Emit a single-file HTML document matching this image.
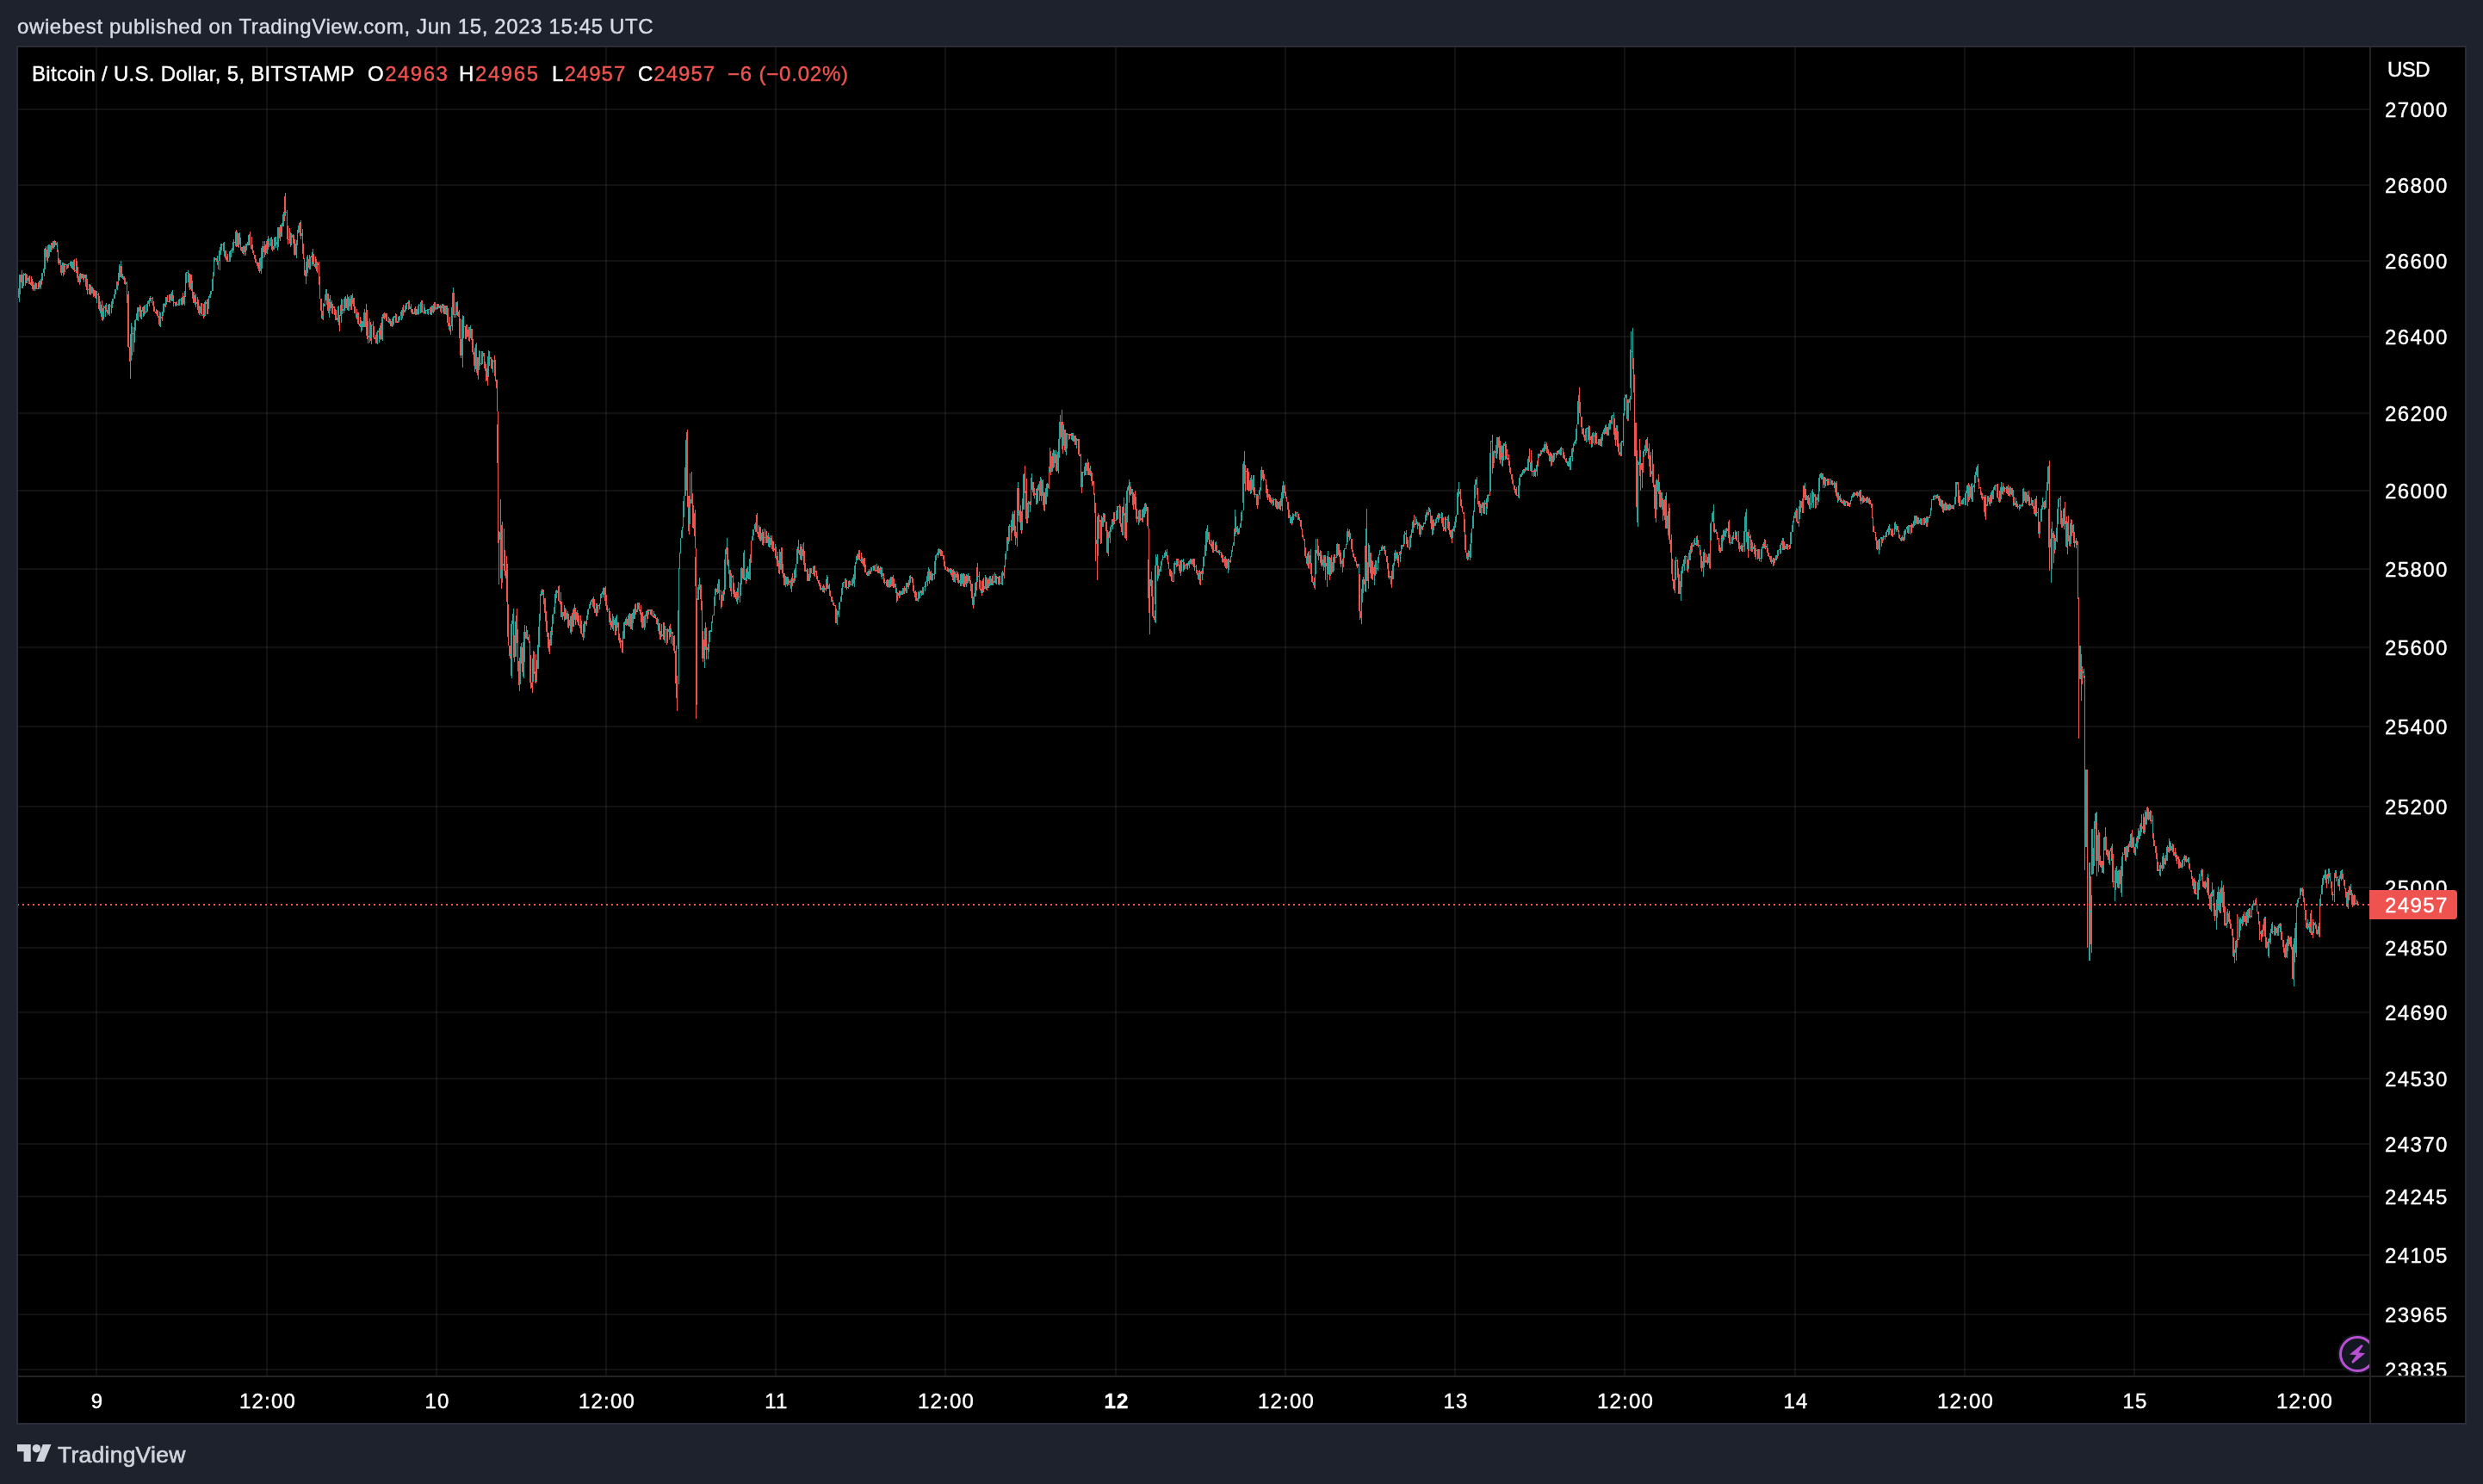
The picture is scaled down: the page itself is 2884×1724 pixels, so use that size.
<!DOCTYPE html>
<html><head><meta charset="utf-8"><title>BTCUSD</title>
<style>
html,body{margin:0;padding:0;}
body{width:2884px;height:1724px;background:#1e222d;overflow:hidden;position:relative;font-family:"Liberation Sans",sans-serif;}
.abs{position:absolute;white-space:nowrap;}
#hdr,.pl,.tl,.lg,#tv{will-change:transform;-webkit-text-stroke:0.4px currentColor;}
#tv{-webkit-text-stroke:0.65px currentColor;}
#hdr{left:20px;top:17px;font-size:24px;line-height:28px;color:#d9dce6;letter-spacing:0.62px;}
#box{left:19px;top:53px;width:2842px;height:1598px;border:2px solid #2a2e39;background:#000;}
#chart{left:21px;top:55px;width:2842px;height:1598px;overflow:hidden;}
.vg{position:absolute;top:0;width:2px;height:1543px;background:rgba(255,255,255,0.065);}
.hg{position:absolute;left:0;width:2731px;height:2px;background:rgba(255,255,255,0.065);}
.pl{position:absolute;left:2748.5px;font-size:24px;line-height:28px;height:28px;color:#fff;letter-spacing:1.4px;}
.tl{position:absolute;top:1559px;font-size:24px;line-height:28px;height:28px;color:#fff;letter-spacing:1.2px;transform:translateX(-50%);text-align:center;}
.lg{position:absolute;top:17px;font-size:24px;line-height:28px;color:#fff;}
.r{color:#ef5350;}
path.gw{stroke:#26a69a;stroke-width:1;transform:translate(0.5px,0)}path.gb{stroke:#26a69a;stroke-width:2}path.rw{stroke:#ef5350;stroke-width:1;transform:translate(0.5px,0)}path.rb{stroke:#ef5350;stroke-width:2}
</style></head><body>
<div id="hdr" class="abs">owiebest published on TradingView.com, Jun 15, 2023 15:45 UTC</div>
<div id="box" class="abs"></div>
<div id="chart" class="abs">
<div class="vg" style="left:90px"></div><div class="vg" style="left:288px"></div><div class="vg" style="left:485px"></div><div class="vg" style="left:682px"></div><div class="vg" style="left:879px"></div><div class="vg" style="left:1076px"></div><div class="vg" style="left:1274px"></div><div class="vg" style="left:1471px"></div><div class="vg" style="left:1668px"></div><div class="vg" style="left:1865px"></div><div class="vg" style="left:2063px"></div><div class="vg" style="left:2260px"></div><div class="vg" style="left:2457px"></div><div class="vg" style="left:2654px"></div>
<div class="hg" style="top:71px"></div><div class="hg" style="top:159px"></div><div class="hg" style="top:247px"></div><div class="hg" style="top:335px"></div><div class="hg" style="top:424px"></div><div class="hg" style="top:514px"></div><div class="hg" style="top:605px"></div><div class="hg" style="top:696px"></div><div class="hg" style="top:788px"></div><div class="hg" style="top:881px"></div><div class="hg" style="top:975px"></div><div class="hg" style="top:1045px"></div><div class="hg" style="top:1120px"></div><div class="hg" style="top:1197px"></div><div class="hg" style="top:1273px"></div><div class="hg" style="top:1334px"></div><div class="hg" style="top:1402px"></div><div class="hg" style="top:1471px"></div><div class="hg" style="top:1535px"></div>
<svg class="abs" style="left:0;top:0" width="2731" height="1543" viewBox="21 55 2731 1543" shape-rendering="crispEdges"><path class="gw" d="M22 332v19M23 319v23"/><path class="gb" d="M22 335v11M23 319v16"/><path class="rw" d="M25 314v21"/><path class="rb" d="M25 319v9"/><path class="gw" d="M26 319v16M27 317v15M29 317v15"/><path class="gb" d="M26 320v8M27 319v1M29 318v2"/><path class="rw" d="M30 318v11"/><path class="rb" d="M30 318v10"/><path class="gw" d="M31 319v10M33 321v9"/><path class="gb" d="M31 326v2M33 323v3"/><path class="rw" d="M34 320v10M36 321v11M37 324v10M38 327v11"/><path class="rb" d="M34 323v5M36 328v3M37 331v1M38 332v4"/><path class="gw" d="M40 329v9M41 328v8"/><path class="gb" d="M40 331v5M41 329v2"/><path class="rw" d="M42 329v7M44 328v8"/><path class="rb" d="M42 329v6M44 335v1"/><path class="gw" d="M45 326v10M47 324v12"/><path class="gb" d="M45 334v2M47 326v8"/><path class="rw" d="M48 321v10"/><path class="rb" d="M48 326v2"/><path class="gw" d="M49 317v9M51 312v9M52 288v25"/><path class="gb" d="M49 317v9M51 312v5M52 289v23"/><path class="rw" d="M53 286v13M55 285v20"/><path class="rb" d="M53 289v1M55 290v13"/><path class="gw" d="M56 284v16M57 284v14M59 282v11"/><path class="gb" d="M56 299v1M57 295v3M59 285v8"/><path class="rw" d="M60 282v8"/><path class="rb" d="M60 285v3"/><path class="gw" d="M62 280v9"/><path class="gb" d="M62 280v8"/><path class="rw" d="M63 279v8M64 280v5"/><path class="rb" d="M63 280v1M64 280v5"/><path class="gw" d="M66 281v9"/><path class="gb" d="M66 282v3"/><path class="rw" d="M67 290v12M68 300v8"/><path class="rb" d="M67 290v3M68 300v6"/><path class="gw" d="M70 302v12"/><path class="gb" d="M70 302v4"/><path class="rw" d="M71 308v12"/><path class="rb" d="M71 308v9"/><path class="gw" d="M73 305v16"/><path class="gb" d="M73 305v12"/><path class="rw" d="M74 306v13"/><path class="rb" d="M74 306v3"/><path class="gw" d="M75 306v10M77 307v6"/><path class="gb" d="M75 308v1M77 307v1"/><path class="rw" d="M78 307v5"/><path class="rb" d="M78 308v1"/><path class="gw" d="M79 306v5M81 305v4M82 303v8"/><path class="gb" d="M79 307v1M81 306v1M82 304v2"/><path class="rw" d="M84 304v9"/><path class="rb" d="M84 304v8"/><path class="gw" d="M85 302v11"/><path class="gb" d="M85 304v8"/><path class="rw" d="M86 301v15M88 300v17"/><path class="rb" d="M86 304v10M88 314v1"/><path class="gw" d="M89 303v20"/><path class="gb" d="M89 309v6"/><path class="rw" d="M90 310v18M92 321v10"/><path class="rb" d="M90 310v5M92 321v7"/><path class="gw" d="M93 317v11"/><path class="gb" d="M93 318v10"/><path class="rw" d="M94 318v6M96 318v7"/><path class="rb" d="M94 318v1M96 318v5"/><path class="gw" d="M97 319v9"/><path class="gb" d="M97 319v4"/><path class="rw" d="M99 319v14"/><path class="rb" d="M99 319v4"/><path class="gw" d="M100 319v18"/><path class="gb" d="M100 322v1"/><path class="rw" d="M101 324v18"/><path class="rb" d="M101 324v13"/><path class="gw" d="M103 334v8M104 330v12"/><path class="gb" d="M103 336v1M104 330v6"/><path class="rw" d="M105 331v12"/><path class="rb" d="M105 331v11"/><path class="gw" d="M107 333v8"/><path class="gb" d="M107 333v8"/><path class="rw" d="M108 335v10M110 337v9M111 338v9"/><path class="rb" d="M108 335v1M110 337v7M111 344v1"/><path class="gw" d="M112 338v14"/><path class="gb" d="M112 342v3"/><path class="rw" d="M114 340v12M115 344v17"/><path class="rb" d="M114 342v1M115 344v15"/><path class="gw" d="M116 350v14"/><path class="gb" d="M116 354v5"/><path class="rw" d="M118 349v23"/><path class="rb" d="M118 354v14"/><path class="gw" d="M119 360v13M120 355v16M122 354v14"/><path class="gb" d="M119 362v6M120 358v4M122 356v2"/><path class="rw" d="M123 352v10M125 354v12"/><path class="rb" d="M123 356v4M125 360v4"/><path class="gw" d="M126 353v12M127 353v14"/><path class="gb" d="M126 362v2M127 355v7"/><path class="rw" d="M129 352v12"/><path class="rb" d="M129 355v1"/><path class="gw" d="M130 349v9M131 347v6M133 342v5M134 336v6M136 327v10"/><path class="gb" d="M130 350v5M131 347v3M133 342v5M134 336v6M136 327v9"/><path class="rw" d="M137 317v15"/><path class="rb" d="M137 327v4"/><path class="gw" d="M138 307v19M140 303v19"/><path class="gb" d="M138 325v1M140 309v13"/><path class="rw" d="M141 309v14"/><path class="rb" d="M141 309v12"/><path class="gw" d="M142 318v6"/><path class="gb" d="M142 319v2"/><path class="rw" d="M144 321v4M145 323v8"/><path class="rb" d="M144 321v4M145 325v5"/><path class="gw" d="M147 327v25"/><path class="gb" d="M147 328v2"/><path class="rw" d="M148 342v18M149 338v66M151 388v52"/><path class="rb" d="M148 342v2M149 358v45M151 403v17"/><path class="gw" d="M152 375v44M153 379v34"/><path class="gb" d="M152 407v12M153 379v28"/><path class="rw" d="M155 387v22"/><path class="rb" d="M155 387v1"/><path class="gw" d="M156 374v24M157 371v13M159 364v8M160 357v16"/><path class="gb" d="M156 380v7M157 372v8M159 364v8M160 357v7"/><path class="rw" d="M162 354v11M163 356v14"/><path class="rb" d="M162 357v5M163 362v6"/><path class="gw" d="M164 360v11M166 356v12"/><path class="gb" d="M164 362v6M166 357v5"/><path class="rw" d="M167 355v12"/><path class="rb" d="M167 357v7"/><path class="gw" d="M168 354v11"/><path class="gb" d="M168 362v2"/><path class="rw" d="M170 353v10"/><path class="rb" d="M170 362v1"/><path class="gw" d="M171 350v12M173 346v10M174 344v6"/><path class="gb" d="M171 353v9M173 349v4M174 346v3"/><path class="rw" d="M175 346v6M177 345v10M178 350v10M179 356v6M181 359v6M182 360v5M183 361v8M185 362v17"/><path class="rb" d="M175 346v1M177 346v1M178 350v2M179 356v6M181 362v2M182 364v1M183 364v3M185 367v10"/><path class="gw" d="M186 363v17"/><path class="gb" d="M186 368v9"/><path class="rw" d="M188 362v11"/><path class="rb" d="M188 368v2"/><path class="gw" d="M189 359v8M190 352v11"/><path class="gb" d="M189 362v5M190 353v9"/><path class="rw" d="M192 345v12"/><path class="rb" d="M192 353v3"/><path class="gw" d="M193 345v9"/><path class="gb" d="M193 346v8"/><path class="rw" d="M194 343v8M196 342v9"/><path class="rb" d="M194 346v4M196 350v1"/><path class="gw" d="M197 342v10M199 339v11M200 337v13"/><path class="gb" d="M197 349v1M199 341v8M200 340v1"/><path class="rw" d="M201 343v13M203 351v5M204 351v4"/><path class="rb" d="M201 343v4M203 351v1M204 351v4"/><path class="gw" d="M205 350v6M207 348v7M208 347v8M210 347v7M211 345v10"/><path class="gb" d="M205 354v1M207 353v1M208 349v4M210 348v1M211 346v2"/><path class="rw" d="M212 340v14"/><path class="rb" d="M212 346v7"/><path class="gw" d="M214 338v17"/><path class="gb" d="M214 344v9"/><path class="rw" d="M215 325v20"/><path class="rb" d="M215 344v1"/><path class="gw" d="M216 316v13M218 314v14"/><path class="gb" d="M216 317v12M218 316v1"/><path class="rw" d="M219 317v17M220 318v19M222 319v19"/><path class="rb" d="M219 317v1M220 318v1M222 319v17"/><path class="gw" d="M223 326v21"/><path class="gb" d="M223 329v7"/><path class="rw" d="M225 339v13"/><path class="rb" d="M225 339v13"/><path class="gw" d="M226 343v11"/><path class="gb" d="M226 346v6"/><path class="rw" d="M227 341v16M229 345v11M230 348v13M231 355v11"/><path class="rb" d="M227 346v5M229 351v2M230 353v7M231 360v4"/><path class="gw" d="M233 352v15"/><path class="gb" d="M233 356v8"/><path class="rw" d="M234 352v13M236 353v17"/><path class="rb" d="M234 356v9M236 365v2"/><path class="gw" d="M237 353v15M238 349v18"/><path class="gb" d="M237 366v1M238 351v16"/><path class="rw" d="M240 348v17M241 353v12"/><path class="rb" d="M240 351v2M241 353v11"/><path class="gw" d="M242 344v15M244 341v5M245 338v4M247 321v17M248 302v19M249 299v5"/><path class="gb" d="M242 347v12M244 342v4M245 338v4M247 324v14M248 316v5M249 299v5"/><path class="rw" d="M251 300v4"/><path class="rb" d="M251 300v2"/><path class="gw" d="M252 297v11"/><path class="gb" d="M252 301v1"/><path class="rw" d="M253 303v10"/><path class="rb" d="M253 303v1"/><path class="gw" d="M255 289v25M256 283v13M257 283v8"/><path class="gb" d="M255 291v12M256 287v4M257 284v3"/><path class="rw" d="M259 282v10"/><path class="rb" d="M259 284v1"/><path class="gw" d="M260 281v17"/><path class="gb" d="M260 283v1"/><path class="rw" d="M262 291v10M263 298v5M264 295v9"/><path class="rb" d="M262 291v9M263 300v2M264 302v2"/><path class="gw" d="M266 294v10M267 291v13M268 290v9M270 287v7M271 278v13"/><path class="gb" d="M266 303v1M267 292v11M268 291v1M270 288v3M271 281v7"/><path class="rw" d="M273 269v17M274 267v20"/><path class="rb" d="M273 281v1M274 282v3"/><path class="gw" d="M275 269v17"/><path class="gb" d="M275 270v15"/><path class="rw" d="M277 271v17"/><path class="rb" d="M277 271v16"/><path class="gw" d="M278 270v14M279 276v15"/><path class="gb" d="M278 281v3M279 278v3"/><path class="rw" d="M281 287v7M282 288v7"/><path class="rb" d="M281 287v5M282 292v2"/><path class="gw" d="M283 285v12"/><path class="gb" d="M283 286v8"/><path class="rw" d="M285 283v14"/><path class="rb" d="M285 286v7"/><path class="gw" d="M286 283v8M288 279v6M289 272v13"/><path class="gb" d="M286 285v6M288 281v4M289 273v8"/><path class="rw" d="M290 269v16M292 275v14M293 284v7M294 291v5M296 296v5M297 301v5M299 304v6M300 305v8M301 300v17"/><path class="rb" d="M290 273v12M292 285v4M293 289v1M294 291v3M296 296v5M297 301v4M299 305v4M300 309v3M301 312v3"/><path class="gw" d="M303 297v21M304 287v25M305 280v20"/><path class="gb" d="M303 299v16M304 288v11M305 286v2"/><path class="rw" d="M307 280v19M308 284v12"/><path class="rb" d="M307 286v7M308 293v1"/><path class="gw" d="M310 278v17"/><path class="gb" d="M310 280v14"/><path class="rw" d="M311 274v16"/><path class="rb" d="M311 280v9"/><path class="gw" d="M312 277v10M314 276v10M315 275v13"/><path class="gb" d="M312 284v3M314 283v1M315 278v6"/><path class="rw" d="M316 278v14"/><path class="rb" d="M316 278v12"/><path class="gw" d="M318 276v14M319 275v11M320 275v13M322 280v11M323 264v23"/><path class="gb" d="M318 286v4M319 285v1M320 284v1M322 281v3M323 264v17"/><path class="rw" d="M325 261v19"/><path class="rb" d="M325 264v13"/><path class="gw" d="M326 261v14"/><path class="gb" d="M326 263v12"/><path class="rw" d="M327 259v16"/><path class="rb" d="M327 263v7"/><path class="gw" d="M329 246v17"/><path class="gb" d="M329 249v14"/><path class="rw" d="M330 228v29"/><path class="rb" d="M330 249v1"/><path class="gw" d="M331 224v27M333 244v25"/><path class="gb" d="M331 247v3M333 246v1"/><path class="rw" d="M334 262v22M336 265v18M337 270v17"/><path class="rb" d="M334 262v16M336 278v1M337 279v3"/><path class="gw" d="M338 271v14M340 272v11"/><path class="gb" d="M338 276v6M340 273v3"/><path class="rw" d="M341 273v13M342 278v19"/><path class="rb" d="M341 273v10M342 283v13"/><path class="gw" d="M344 279v21M345 267v18M346 262v9M348 258v12"/><path class="gb" d="M344 283v13M345 281v2M346 270v1M348 259v11"/><path class="rw" d="M349 256v22"/><path class="rb" d="M349 259v15"/><path class="gw" d="M351 266v17"/><path class="gb" d="M351 271v3"/><path class="rw" d="M352 283v17M353 300v20M355 314v16"/><path class="rb" d="M352 283v12M353 300v1M355 314v7"/><path class="gw" d="M356 298v23M357 296v21"/><path class="gb" d="M356 304v17M357 301v3"/><path class="rw" d="M359 296v17"/><path class="rb" d="M359 301v10"/><path class="gw" d="M360 298v15M362 293v16"/><path class="gb" d="M360 299v12M362 297v2"/><path class="rw" d="M363 289v17M364 295v14M366 298v14"/><path class="rb" d="M363 297v7M364 304v3M366 307v3"/><path class="gw" d="M367 301v14"/><path class="gb" d="M367 305v5"/><path class="rw" d="M368 304v13M370 304v27M371 321v26M373 347v19M374 361v10"/><path class="rb" d="M368 305v1M370 306v2M371 321v7M373 347v14M374 361v9"/><path class="gw" d="M375 352v20M377 342v14M378 336v13M379 336v18"/><path class="gb" d="M375 367v3M377 353v3M378 348v1M379 338v11"/><path class="rw" d="M381 341v23"/><path class="rb" d="M381 341v20"/><path class="gw" d="M382 347v22"/><path class="gb" d="M382 351v10"/><path class="rw" d="M383 343v18"/><path class="rb" d="M383 351v7"/><path class="gw" d="M385 349v15"/><path class="gb" d="M385 351v7"/><path class="rw" d="M386 353v12M388 356v10M389 359v12M390 360v12"/><path class="rb" d="M386 353v1M388 356v2M389 359v1M390 360v12"/><path class="gw" d="M392 359v15M393 355v23"/><path class="gb" d="M392 369v3M393 356v13"/><path class="rw" d="M394 366v19"/><path class="rb" d="M394 366v1"/><path class="gw" d="M396 347v28"/><path class="gb" d="M396 354v13"/><path class="rw" d="M397 348v17"/><path class="rb" d="M397 354v7"/><path class="gw" d="M399 347v17M400 345v16M401 344v14"/><path class="gb" d="M399 359v2M400 357v2M401 347v10"/><path class="rw" d="M403 342v18"/><path class="rb" d="M403 347v11"/><path class="gw" d="M404 345v16M405 344v17M407 343v17"/><path class="gb" d="M404 356v2M405 355v1M407 347v9"/><path class="rw" d="M408 344v16"/><path class="rb" d="M408 347v1"/><path class="gw" d="M409 341v12"/><path class="gb" d="M409 343v5"/><path class="rw" d="M411 346v14M412 356v8M414 359v12"/><path class="rb" d="M411 346v10M412 356v8M414 364v5"/><path class="gw" d="M415 363v10"/><path class="gb" d="M415 365v4"/><path class="rw" d="M416 363v14M418 368v12"/><path class="rb" d="M416 365v11M418 376v3"/><path class="gw" d="M419 372v14M420 373v11"/><path class="gb" d="M419 376v3M420 373v3"/><path class="rw" d="M422 373v7"/><path class="rb" d="M422 373v7"/><path class="gw" d="M423 359v21"/><path class="gb" d="M423 363v17"/><path class="rw" d="M425 353v28M426 360v34M427 373v26"/><path class="rb" d="M425 363v17M426 380v10M427 390v2"/><path class="gw" d="M429 370v28"/><path class="gb" d="M429 390v2"/><path class="rw" d="M430 374v22"/><path class="rb" d="M430 390v3"/><path class="gw" d="M431 377v23M433 373v17"/><path class="gb" d="M431 378v15M433 377v1"/><path class="rw" d="M434 379v15M436 389v6M437 388v11"/><path class="rb" d="M434 379v13M436 392v2M437 394v5"/><path class="gw" d="M438 384v16M440 381v17"/><path class="gb" d="M438 386v13M440 384v2"/><path class="rw" d="M441 378v16M442 375v20"/><path class="rb" d="M441 384v5M442 389v5"/><path class="gw" d="M444 365v31"/><path class="gb" d="M444 368v26"/><path class="rw" d="M445 364v5M446 363v8"/><path class="rb" d="M445 368v1M446 369v1"/><path class="gw" d="M448 364v8"/><path class="gb" d="M448 364v5"/><path class="rw" d="M449 364v9M451 368v7"/><path class="rb" d="M449 364v9M451 373v1"/><path class="gw" d="M452 370v6"/><path class="gb" d="M452 371v2"/><path class="rw" d="M453 371v8M455 370v10"/><path class="rb" d="M453 371v2M455 373v6"/><path class="gw" d="M456 368v11M457 367v10M459 364v11"/><path class="gb" d="M456 370v9M457 369v1M459 367v2"/><path class="rw" d="M460 365v10M462 368v7"/><path class="rb" d="M460 367v6M462 373v2"/><path class="gw" d="M463 367v7M464 367v5M466 360v12M467 357v13"/><path class="gb" d="M463 368v6M464 367v1M466 362v5M467 361v1"/><path class="rw" d="M468 354v13"/><path class="rb" d="M468 361v2"/><path class="gw" d="M470 355v8M471 352v9M472 352v7M474 349v11"/><path class="gb" d="M470 360v3M471 358v2M472 353v5M474 351v2"/><path class="rw" d="M475 349v10"/><path class="rb" d="M475 351v8"/><path class="gw" d="M477 353v10"/><path class="gb" d="M477 356v3"/><path class="rw" d="M478 359v6M479 359v6"/><path class="rb" d="M478 359v1M479 359v6"/><path class="gw" d="M481 358v7"/><path class="gb" d="M481 363v2"/><path class="rw" d="M482 356v9M483 359v7"/><path class="rb" d="M482 363v2M483 365v1"/><path class="gw" d="M485 357v9M486 353v12M488 351v13M489 349v12"/><path class="gb" d="M485 359v6M486 355v4M488 354v1M489 351v3"/><path class="rw" d="M490 349v14"/><path class="rb" d="M490 351v12"/><path class="gw" d="M492 353v12"/><path class="gb" d="M492 362v1"/><path class="rw" d="M493 357v7"/><path class="rb" d="M493 362v2"/><path class="gw" d="M494 360v5M496 359v6M497 359v7M499 357v8M500 356v10"/><path class="gb" d="M494 361v3M496 360v1M497 360v1M499 359v1M500 357v3"/><path class="rw" d="M501 355v11"/><path class="rb" d="M501 357v6"/><path class="gw" d="M503 353v11"/><path class="gb" d="M503 355v8"/><path class="rw" d="M504 351v11M505 351v9"/><path class="rb" d="M504 355v4M505 359v1"/><path class="gw" d="M507 353v7"/><path class="gb" d="M507 357v2"/><path class="rw" d="M508 353v6"/><path class="rb" d="M508 357v1"/><path class="gw" d="M509 353v5M511 354v8"/><path class="gb" d="M509 357v1M511 355v3"/><path class="rw" d="M512 355v9"/><path class="rb" d="M512 355v3"/><path class="gw" d="M514 353v10"/><path class="gb" d="M514 353v5"/><path class="rw" d="M515 354v9M516 355v10"/><path class="rb" d="M515 354v1M516 355v10"/><path class="gw" d="M518 355v11"/><path class="gb" d="M518 355v10"/><path class="rw" d="M519 355v16M520 358v21M522 368v17"/><path class="rb" d="M519 355v1M520 358v17M522 375v8"/><path class="gw" d="M523 378v11M525 357v27M526 334v31"/><path class="gb" d="M523 379v4M525 357v22M526 340v17"/><path class="rw" d="M527 340v29"/><path class="rb" d="M527 340v26"/><path class="gw" d="M529 351v18M530 351v15"/><path class="gb" d="M529 365v1M530 356v9"/><path class="rw" d="M531 350v17M533 360v12M534 370v24M535 394v22"/><path class="rb" d="M531 356v6M533 362v6M534 370v23M535 394v19"/><path class="gw" d="M537 366v61M538 367v26"/><path class="gb" d="M537 371v42M538 370v1"/><path class="rw" d="M540 379v15M541 377v17M542 377v15"/><path class="rb" d="M540 379v1M541 380v1M542 381v10"/><path class="gw" d="M544 380v16"/><path class="gb" d="M544 383v8"/><path class="rw" d="M545 380v17"/><path class="rb" d="M545 383v13"/><path class="gw" d="M546 378v15"/><path class="gb" d="M546 381v12"/><path class="rw" d="M548 382v19M549 394v18M551 404v28"/><path class="rb" d="M548 382v13M549 395v14M551 409v16"/><path class="gw" d="M552 400v29M553 398v35"/><path class="gb" d="M552 420v5M553 402v18"/><path class="rw" d="M555 415v26"/><path class="rb" d="M555 415v21"/><path class="gw" d="M556 407v23M557 408v17M559 413v11M560 408v15"/><path class="gb" d="M556 424v6M557 423v1M559 422v1M560 408v14"/><path class="rw" d="M562 410v18M563 420v11M564 423v20M566 425v23"/><path class="rb" d="M562 410v4M563 420v7M564 427v1M566 428v14"/><path class="gw" d="M567 407v31M568 408v17"/><path class="gb" d="M567 414v23M568 408v6"/><path class="rw" d="M570 415v11M571 417v12"/><path class="rb" d="M570 415v2M571 417v11"/><path class="gw" d="M572 418v15"/><path class="gb" d="M572 419v9"/><path class="rw" d="M574 413v22M575 418v25M577 441v37M578 478v153M579 617v62"/><path class="rb" d="M574 419v1M575 420v17M577 441v10M578 493v45M579 617v10"/><path class="gw" d="M581 580v51"/><path class="gb" d="M581 618v9"/><path class="rw" d="M582 610v74"/><path class="rb" d="M582 627v45"/><path class="gw" d="M583 606v71M585 614v43"/><path class="gb" d="M583 662v10M585 655v2"/><path class="rw" d="M586 639v30M588 646v35M589 655v54M590 702v48M592 750v15"/><path class="rb" d="M586 655v8M588 663v9M589 672v27M590 702v38M592 750v12"/><path class="gw" d="M593 758v27M594 721v67M596 707v43"/><path class="gb" d="M593 760v2M594 725v35M596 713v12"/><path class="rw" d="M597 738v31"/><path class="rb" d="M597 738v26"/><path class="gw" d="M599 715v48"/><path class="gb" d="M599 722v41"/><path class="rw" d="M600 707v40M601 731v49M603 768v35"/><path class="rb" d="M600 722v18M601 740v1M603 768v28"/><path class="gw" d="M604 751v44M605 747v24"/><path class="gb" d="M604 764v31M605 752v12"/><path class="rw" d="M607 746v40"/><path class="rb" d="M607 752v29"/><path class="gw" d="M608 757v31M609 726v43"/><path class="gb" d="M608 766v15M609 734v32"/><path class="rw" d="M611 727v15"/><path class="rb" d="M611 734v8"/><path class="gw" d="M612 732v11"/><path class="gb" d="M612 740v2"/><path class="rw" d="M614 737v10M615 745v28M616 761v39M618 775v30"/><path class="rb" d="M614 740v4M615 745v2M616 761v32M618 793v6"/><path class="gw" d="M619 756v36"/><path class="gb" d="M619 765v27"/><path class="rw" d="M620 757v26M622 760v34"/><path class="rb" d="M620 765v15M622 780v13"/><path class="gw" d="M623 767v25M625 749v28M626 721v31M627 690v31M629 684v8"/><path class="gb" d="M623 790v1M625 749v28M626 728v21M627 713v8M629 686v6"/><path class="rw" d="M630 685v6"/><path class="rb" d="M630 686v4"/><path class="gw" d="M631 685v17"/><path class="gb" d="M631 688v2"/><path class="rw" d="M633 695v17M634 710v14M635 721v19M637 735v22M638 743v17"/><path class="rb" d="M633 695v17M634 712v10M635 722v12M637 735v18M638 753v4"/><path class="gw" d="M640 728v22"/><path class="gb" d="M640 733v17"/><path class="rw" d="M641 722v16"/><path class="rb" d="M641 733v1"/><path class="gw" d="M642 713v12M644 701v12M645 689v12M646 685v10"/><path class="gb" d="M642 714v11M644 705v8M645 690v11M646 686v4"/><path class="rw" d="M648 681v10M649 680v19M651 688v19M652 699v18"/><path class="rb" d="M648 686v3M649 689v9M651 698v4M652 702v15"/><path class="gw" d="M653 711v9"/><path class="gb" d="M653 711v6"/><path class="rw" d="M655 703v19"/><path class="rb" d="M655 711v5"/><path class="gw" d="M656 706v14"/><path class="gb" d="M656 707v9"/><path class="rw" d="M657 708v12"/><path class="rb" d="M657 708v11"/><path class="gw" d="M659 710v19"/><path class="gb" d="M659 712v7"/><path class="rw" d="M660 713v17"/><path class="rb" d="M660 713v14"/><path class="gw" d="M662 716v19M663 715v22"/><path class="gb" d="M662 720v7M663 716v4"/><path class="rw" d="M664 712v22"/><path class="rb" d="M664 716v15"/><path class="gw" d="M666 706v22"/><path class="gb" d="M666 708v20"/><path class="rw" d="M667 702v12M668 706v20"/><path class="rb" d="M667 708v5M668 713v7"/><path class="gw" d="M670 709v14"/><path class="gb" d="M670 711v9"/><path class="rw" d="M671 712v11M672 715v12M674 715v15M675 721v16M677 725v19"/><path class="rb" d="M671 712v10M672 722v4M674 726v4M675 730v6M677 736v4"/><path class="gw" d="M678 728v13M679 721v13"/><path class="gb" d="M678 731v9M679 722v9"/><path class="rw" d="M681 720v7"/><path class="rb" d="M681 722v3"/><path class="gw" d="M682 714v6M683 707v7M685 701v6M686 697v6M688 695v10"/><path class="gb" d="M682 715v5M683 708v6M685 702v5M686 699v3M688 696v3"/><path class="rw" d="M689 693v14M690 696v16M692 701v15"/><path class="rb" d="M689 696v8M690 704v3M692 707v5"/><path class="gw" d="M693 701v15"/><path class="gb" d="M693 702v10"/><path class="rw" d="M694 703v9"/><path class="rb" d="M694 703v1"/><path class="gw" d="M696 702v6M697 695v7M698 689v6M700 685v9M701 682v9"/><path class="gb" d="M696 703v1M697 701v1M698 690v5M700 687v3M701 683v4"/><path class="rw" d="M703 681v19M704 691v14M705 703v8"/><path class="rb" d="M703 683v15M704 698v6M705 704v5"/><path class="gw" d="M707 706v13"/><path class="gb" d="M707 708v1"/><path class="rw" d="M708 710v16"/><path class="rb" d="M708 710v13"/><path class="gw" d="M709 718v14"/><path class="gb" d="M709 721v2"/><path class="rw" d="M711 713v18"/><path class="rb" d="M711 721v8"/><path class="gw" d="M712 716v17"/><path class="gb" d="M712 717v12"/><path class="rw" d="M714 720v18"/><path class="rb" d="M714 720v6"/><path class="gw" d="M715 717v21M716 714v19"/><path class="gb" d="M715 718v8M716 716v2"/><path class="rw" d="M718 723v21M719 736v11M720 741v12M722 744v14M723 733v26"/><path class="rb" d="M718 723v6M719 736v1M720 741v2M722 744v2M723 746v10"/><path class="gw" d="M725 722v20"/><path class="gb" d="M725 723v19"/><path class="rw" d="M726 719v7"/><path class="rb" d="M726 723v2"/><path class="gw" d="M727 717v10"/><path class="gb" d="M727 719v6"/><path class="rw" d="M729 715v12"/><path class="rb" d="M729 719v7"/><path class="gw" d="M730 715v13M731 712v16"/><path class="gb" d="M730 725v1M731 713v13"/><path class="rw" d="M733 713v18"/><path class="rb" d="M733 713v18"/><path class="gw" d="M734 712v20M735 708v16M737 702v17"/><path class="gb" d="M734 727v4M735 722v2M737 707v12"/><path class="rw" d="M738 701v13"/><path class="rb" d="M738 707v5"/><path class="gw" d="M740 700v11M741 700v6"/><path class="gb" d="M740 708v3M741 704v2"/><path class="rw" d="M742 700v10M744 703v14M745 712v12M746 711v19"/><path class="rb" d="M742 704v4M744 708v6M745 714v9M746 723v6"/><path class="gw" d="M748 716v16M749 714v15M751 709v15"/><path class="gb" d="M748 716v13M749 715v1M751 710v6"/><path class="rw" d="M752 708v11"/><path class="rb" d="M752 710v1"/><path class="gw" d="M753 708v6M755 708v6"/><path class="gb" d="M753 710v1M755 708v2"/><path class="rw" d="M756 708v7M757 708v8M759 710v8"/><path class="rb" d="M756 708v6M757 714v1M759 715v2"/><path class="gw" d="M760 713v5"/><path class="gb" d="M760 716v1"/><path class="rw" d="M761 714v5M763 717v9"/><path class="rb" d="M761 716v2M763 718v7"/><path class="gw" d="M764 719v14"/><path class="gb" d="M764 724v1"/><path class="rw" d="M766 724v16M767 733v10"/><path class="rb" d="M766 724v13M767 737v6"/><path class="gw" d="M768 725v15"/><path class="gb" d="M768 737v3"/><path class="rw" d="M770 723v16M771 723v21"/><path class="rb" d="M770 737v2M771 739v4"/><path class="gw" d="M772 727v20"/><path class="gb" d="M772 728v15"/><path class="rw" d="M774 731v18M775 730v17"/><path class="rb" d="M774 731v1M775 732v2"/><path class="gw" d="M777 727v16"/><path class="gb" d="M777 731v3"/><path class="rw" d="M778 725v15"/><path class="rb" d="M778 731v6"/><path class="gw" d="M779 730v18"/><path class="gb" d="M779 731v6"/><path class="rw" d="M781 734v16M782 739v17M783 738v21M785 750v61M786 785v41"/><path class="rb" d="M781 734v2M782 739v3M783 742v14M785 756v38M786 794v2"/><path class="gw" d="M788 661v134M789 643v18M790 625v18M792 613v12M793 601v12M794 576v25M796 540v36M797 502v52"/><path class="gb" d="M788 709v45M789 660v1M790 642v1M792 616v9M793 612v1M794 582v19M796 543v33M797 511v32"/><path class="rw" d="M798 499v90M800 576v45"/><path class="rb" d="M798 525v45M800 576v41"/><path class="gw" d="M801 550v59M803 548v37"/><path class="gb" d="M801 590v19M803 580v5"/><path class="rw" d="M804 573v40M805 587v27M807 592v45M808 637v198M809 695v124"/><path class="rb" d="M804 580v1M805 587v8M807 596v27M808 647v34M809 695v35"/><path class="gw" d="M811 679v18M812 671v14"/><path class="gb" d="M811 682v15M812 679v3"/><path class="rw" d="M814 679v19M815 698v42M816 733v36"/><path class="rb" d="M814 679v17M815 698v11M816 733v32"/><path class="gw" d="M818 730v46"/><path class="gb" d="M818 743v22"/><path class="rw" d="M819 723v30M820 729v37"/><path class="rb" d="M819 743v8M820 751v4"/><path class="gw" d="M822 748v18"/><path class="gb" d="M822 752v3"/><path class="rw" d="M823 733v24"/><path class="rb" d="M823 752v1"/><path class="gw" d="M824 732v14M826 724v10M827 715v9M829 704v11M830 691v13M831 683v8"/><path class="gb" d="M824 735v11M826 732v2M827 722v2M829 714v1M830 693v11M831 684v7"/><path class="rw" d="M833 678v12"/><path class="rb" d="M833 684v4"/><path class="gw" d="M834 673v16M835 673v24"/><path class="gb" d="M834 685v3M835 676v9"/><path class="rw" d="M837 686v21M838 691v14"/><path class="rb" d="M837 686v1M838 691v10"/><path class="gw" d="M840 685v13"/><path class="gb" d="M840 687v11"/><path class="rw" d="M841 679v12"/><path class="rb" d="M841 687v3"/><path class="gw" d="M842 638v47M844 625v19"/><path class="gb" d="M842 650v35M844 636v8"/><path class="rw" d="M845 636v22"/><path class="rb" d="M845 636v20"/><path class="gw" d="M846 650v17"/><path class="gb" d="M846 653v3"/><path class="rw" d="M848 662v25"/><path class="rb" d="M848 662v21"/><path class="gw" d="M849 666v27"/><path class="gb" d="M849 669v14"/><path class="rw" d="M851 668v22M852 677v17M853 685v9M855 687v12"/><path class="rb" d="M851 669v2M852 677v2M853 685v3M855 688v8"/><path class="gw" d="M856 683v19"/><path class="gb" d="M856 688v8"/><path class="rw" d="M857 676v21"/><path class="rb" d="M857 688v6"/><path class="gw" d="M859 679v21M860 676v16M861 659v20"/><path class="gb" d="M859 693v1M860 677v15M861 660v17"/><path class="rw" d="M863 642v31"/><path class="rb" d="M863 660v12"/><path class="gw" d="M864 639v35"/><path class="gb" d="M864 671v1"/><path class="rw" d="M866 661v17"/><path class="rb" d="M866 671v3"/><path class="gw" d="M867 662v13M868 658v14"/><path class="gb" d="M867 665v9M868 660v5"/><path class="rw" d="M870 664v9"/><path class="rb" d="M870 664v9"/><path class="gw" d="M871 644v30"/><path class="gb" d="M871 649v24"/><path class="rw" d="M872 628v26"/><path class="rb" d="M872 649v2"/><path class="gw" d="M874 622v6M875 615v7M877 607v11"/><path class="gb" d="M874 623v5M875 615v7M877 609v6"/><path class="rw" d="M878 598v16M879 596v24M881 610v16"/><path class="rb" d="M878 609v1M879 610v8M881 618v6"/><path class="gw" d="M882 612v15"/><path class="gb" d="M882 613v11"/><path class="rw" d="M883 612v17"/><path class="rb" d="M883 613v15"/><path class="gw" d="M885 615v18"/><path class="gb" d="M885 619v9"/><path class="rw" d="M886 618v16M887 614v17"/><path class="rb" d="M886 619v1M887 620v5"/><path class="gw" d="M889 615v13"/><path class="gb" d="M889 624v1"/><path class="rw" d="M890 617v14"/><path class="rb" d="M890 625v6"/><path class="gw" d="M892 619v16"/><path class="gb" d="M892 622v9"/><path class="rw" d="M893 624v12"/><path class="rb" d="M893 624v2"/><path class="gw" d="M894 622v14"/><path class="gb" d="M894 625v1"/><path class="rw" d="M896 622v15M897 628v12M898 629v12"/><path class="rb" d="M896 625v8M897 633v5M898 638v1"/><path class="gw" d="M900 632v16"/><path class="gb" d="M900 637v2"/><path class="rw" d="M901 635v15M903 641v17"/><path class="rb" d="M901 637v9M903 646v12"/><path class="gw" d="M904 651v15"/><path class="gb" d="M904 654v4"/><path class="rw" d="M905 638v29"/><path class="rb" d="M905 654v12"/><path class="gw" d="M907 636v26"/><path class="gb" d="M907 641v21"/><path class="rw" d="M908 636v27M909 655v16M911 666v14"/><path class="rb" d="M908 641v14M909 655v11M911 666v14"/><path class="gw" d="M912 669v13"/><path class="gb" d="M912 670v10"/><path class="rw" d="M914 670v11"/><path class="rb" d="M914 670v9"/><path class="gw" d="M915 670v9"/><path class="gb" d="M915 671v8"/><path class="rw" d="M916 673v7"/><path class="rb" d="M916 673v4"/><path class="gw" d="M918 673v11"/><path class="gb" d="M918 675v2"/><path class="rw" d="M919 671v17M920 666v15"/><path class="rb" d="M919 675v1M920 676v5"/><path class="gw" d="M922 662v15"/><path class="gb" d="M922 672v5"/><path class="rw" d="M923 660v15"/><path class="rb" d="M923 672v2"/><path class="gw" d="M924 655v16M926 635v20"/><path class="gb" d="M924 667v4M926 638v17"/><path class="rw" d="M927 627v16M929 632v17M930 635v16"/><path class="rb" d="M927 638v1M929 639v6M930 645v5"/><path class="gw" d="M931 632v19"/><path class="gb" d="M931 638v12"/><path class="rw" d="M933 630v23M934 640v18M935 654v10"/><path class="rb" d="M933 638v8M934 646v10M935 656v8"/><path class="gw" d="M937 660v10"/><path class="gb" d="M937 662v2"/><path class="rw" d="M938 661v14"/><path class="rb" d="M938 662v13"/><path class="gw" d="M940 665v10M941 660v11"/><path class="gb" d="M940 667v8M941 660v7"/><path class="rw" d="M942 660v6M944 659v8"/><path class="rb" d="M942 660v6M944 666v1"/><path class="gw" d="M945 657v12"/><path class="gb" d="M945 658v8"/><path class="rw" d="M946 657v13M948 663v10M949 669v6M951 674v4M952 677v5M953 680v6"/><path class="rb" d="M946 658v1M948 663v2M949 669v4M951 674v4M952 678v3M953 681v4"/><path class="gw" d="M955 681v7"/><path class="gb" d="M955 683v2"/><path class="rw" d="M956 679v9"/><path class="rb" d="M956 683v3"/><path class="gw" d="M957 681v8"/><path class="gb" d="M957 683v3"/><path class="rw" d="M959 673v14"/><path class="rb" d="M959 683v2"/><path class="gw" d="M960 668v15"/><path class="gb" d="M960 678v5"/><path class="rw" d="M961 670v14"/><path class="rb" d="M961 678v6"/><path class="gw" d="M963 678v8"/><path class="gb" d="M963 680v4"/><path class="rw" d="M964 686v7M966 693v6"/><path class="rb" d="M964 686v6M966 693v6"/><path class="gw" d="M967 697v5"/><path class="gb" d="M967 698v1"/><path class="rw" d="M968 700v4M970 703v11M971 707v17"/><path class="rb" d="M968 700v3M970 703v1M971 707v17"/><path class="gw" d="M972 709v17M974 708v9M975 699v9M977 691v8M978 682v9M979 676v6M981 674v9M982 672v11"/><path class="gb" d="M972 714v10M974 710v4M975 700v8M977 693v6M978 683v8M979 677v5M981 676v1M982 672v5"/><path class="rw" d="M983 674v11M985 675v9"/><path class="rb" d="M983 674v8M985 682v1"/><path class="gw" d="M986 674v8"/><path class="gb" d="M986 675v7"/><path class="rw" d="M987 675v5M989 673v7"/><path class="rb" d="M987 675v4M989 679v1"/><path class="gw" d="M990 671v10M992 665v17M993 654v19M994 646v9M996 643v8"/><path class="gb" d="M990 678v1M992 667v11M993 657v10M994 653v2M996 644v7"/><path class="rw" d="M997 639v11M998 639v12M1000 642v12"/><path class="rb" d="M997 644v5M998 649v1M1000 650v2"/><path class="gw" d="M1001 647v8"/><path class="gb" d="M1001 649v3"/><path class="rw" d="M1003 648v9M1004 648v13M1005 656v9M1007 664v4M1008 663v6"/><path class="rb" d="M1003 649v8M1004 657v2M1005 659v6M1007 665v3M1008 668v1"/><path class="gw" d="M1009 661v8"/><path class="gb" d="M1009 663v6"/><path class="rw" d="M1011 660v7"/><path class="rb" d="M1011 663v4"/><path class="gw" d="M1012 659v5M1014 657v6M1015 657v6"/><path class="gb" d="M1012 659v5M1014 658v1M1015 658v1"/><path class="rw" d="M1016 656v8"/><path class="rb" d="M1016 658v5"/><path class="gw" d="M1018 655v9"/><path class="gb" d="M1018 662v1"/><path class="rw" d="M1019 658v6M1020 657v9"/><path class="rb" d="M1019 662v2M1020 664v2"/><path class="gw" d="M1022 658v9"/><path class="gb" d="M1022 660v6"/><path class="rw" d="M1023 659v11"/><path class="rb" d="M1023 660v2"/><path class="gw" d="M1024 659v14"/><path class="gb" d="M1024 660v2"/><path class="rw" d="M1026 666v9M1027 672v7"/><path class="rb" d="M1026 666v3M1027 672v5"/><path class="gw" d="M1029 674v7"/><path class="gb" d="M1029 676v1"/><path class="rw" d="M1030 673v8M1031 673v10"/><path class="rb" d="M1030 676v4M1031 680v2"/><path class="gw" d="M1033 672v11"/><path class="gb" d="M1033 674v8"/><path class="rw" d="M1034 671v11"/><path class="rb" d="M1034 674v5"/><path class="gw" d="M1035 670v11"/><path class="gb" d="M1035 670v9"/><path class="rw" d="M1037 668v15M1038 672v11"/><path class="rb" d="M1037 670v11M1038 681v1"/><path class="gw" d="M1040 678v11"/><path class="gb" d="M1040 678v4"/><path class="rw" d="M1041 683v17M1042 688v10M1044 686v9"/><path class="rb" d="M1041 683v1M1042 688v1M1044 689v3"/><path class="gw" d="M1045 688v5M1046 686v5"/><path class="gb" d="M1045 689v3M1046 687v2"/><path class="rw" d="M1048 685v6"/><path class="rb" d="M1048 687v4"/><path class="gw" d="M1049 683v7"/><path class="gb" d="M1049 683v7"/><path class="rw" d="M1050 681v9"/><path class="rb" d="M1050 683v4"/><path class="gw" d="M1052 681v8M1053 677v12"/><path class="gb" d="M1052 683v4M1053 677v6"/><path class="rw" d="M1055 674v10"/><path class="rb" d="M1055 677v5"/><path class="gw" d="M1056 669v11M1057 668v9"/><path class="gb" d="M1056 678v2M1057 669v8"/><path class="rw" d="M1059 670v7M1060 672v8M1061 680v9M1063 686v8M1064 688v10"/><path class="rb" d="M1059 670v2M1060 672v1M1061 680v7M1063 687v7M1064 694v4"/><path class="gw" d="M1066 687v12M1067 688v8M1068 686v9M1070 686v6"/><path class="gb" d="M1066 695v3M1067 694v1M1068 689v5M1070 686v3"/><path class="rw" d="M1071 685v6"/><path class="rb" d="M1071 686v3"/><path class="gw" d="M1072 682v9M1074 680v7M1075 675v7M1077 665v16M1078 659v16"/><path class="gb" d="M1072 682v7M1074 681v1M1075 676v6M1077 669v7M1078 664v5"/><path class="rw" d="M1079 661v17M1081 663v11"/><path class="rb" d="M1079 664v1M1081 664v10"/><path class="gw" d="M1082 666v9M1083 666v8M1085 667v6M1086 651v16M1087 644v7M1089 640v8M1090 637v8"/><path class="gb" d="M1082 672v2M1083 668v4M1085 667v1M1086 652v15M1087 645v6M1089 642v3M1090 638v4"/><path class="rw" d="M1092 638v8M1093 639v7M1094 640v6M1096 645v7M1097 652v6M1098 658v4M1100 659v4M1101 660v5"/><path class="rb" d="M1092 638v5M1093 643v2M1094 645v1M1096 645v5M1097 652v6M1098 658v4M1100 662v1M1101 662v2"/><path class="gw" d="M1103 660v5"/><path class="gb" d="M1103 661v3"/><path class="rw" d="M1104 660v8"/><path class="rb" d="M1104 661v5"/><path class="gw" d="M1105 661v9"/><path class="gb" d="M1105 662v4"/><path class="rw" d="M1107 661v15"/><path class="rb" d="M1107 662v12"/><path class="gw" d="M1108 663v13"/><path class="gb" d="M1108 665v9"/><path class="rw" d="M1109 664v13M1111 663v11M1112 665v12M1113 667v11"/><path class="rb" d="M1109 665v2M1111 667v4M1112 671v3M1113 674v3"/><path class="gw" d="M1115 671v10M1116 666v15"/><path class="gb" d="M1115 674v3M1116 667v7"/><path class="rw" d="M1118 667v14"/><path class="rb" d="M1118 667v11"/><path class="gw" d="M1119 666v16"/><path class="gb" d="M1119 666v12"/><path class="rw" d="M1120 667v15"/><path class="rb" d="M1120 667v12"/><path class="gw" d="M1122 667v15"/><path class="gb" d="M1122 669v10"/><path class="rw" d="M1123 669v9"/><path class="rb" d="M1123 669v8"/><path class="gw" d="M1124 666v11"/><path class="gb" d="M1124 668v9"/><path class="rw" d="M1126 669v8M1127 674v13M1129 678v22M1130 694v13"/><path class="rb" d="M1126 669v6M1127 675v3M1129 678v17M1130 695v8"/><path class="gw" d="M1131 689v14M1133 676v17"/><path class="gb" d="M1131 693v10M1133 677v16"/><path class="rw" d="M1134 659v27"/><path class="rb" d="M1134 677v2"/><path class="gw" d="M1135 654v22M1137 664v17"/><path class="gb" d="M1135 670v6M1137 669v1"/><path class="rw" d="M1138 674v12M1140 675v17"/><path class="rb" d="M1138 674v10M1140 684v5"/><path class="gw" d="M1141 673v16"/><path class="gb" d="M1141 686v3"/><path class="rw" d="M1142 671v17"/><path class="rb" d="M1142 686v1"/><path class="gw" d="M1144 668v16M1145 670v15"/><path class="gb" d="M1144 681v3M1145 680v1"/><path class="rw" d="M1146 671v15"/><path class="rb" d="M1146 680v5"/><path class="gw" d="M1148 671v12"/><path class="gb" d="M1148 673v10"/><path class="rw" d="M1149 669v12"/><path class="rb" d="M1149 673v5"/><path class="gw" d="M1150 669v11"/><path class="gb" d="M1150 672v6"/><path class="rw" d="M1152 669v11"/><path class="rb" d="M1152 672v8"/><path class="gw" d="M1153 667v13M1155 665v12M1156 667v11"/><path class="gb" d="M1153 678v2M1155 675v2M1156 669v6"/><path class="rw" d="M1157 669v10M1159 670v9"/><path class="rb" d="M1157 669v1M1159 670v2"/><path class="gw" d="M1160 669v11"/><path class="gb" d="M1160 671v1"/><path class="rw" d="M1161 669v9"/><path class="rb" d="M1161 671v7"/><path class="gw" d="M1163 668v11M1164 663v17"/><path class="gb" d="M1163 677v1M1164 665v12"/><path class="rw" d="M1166 659v13"/><path class="rb" d="M1166 665v4"/><path class="gw" d="M1167 650v9M1168 640v10M1170 624v16"/><path class="gb" d="M1167 657v2M1168 643v7M1170 624v16"/><path class="rw" d="M1171 615v17"/><path class="rb" d="M1171 624v4"/><path class="gw" d="M1172 609v20"/><path class="gb" d="M1172 611v17"/><path class="rw" d="M1174 605v23"/><path class="rb" d="M1174 611v1"/><path class="gw" d="M1175 597v22M1176 594v23"/><path class="gb" d="M1175 604v8M1176 597v7"/><path class="rw" d="M1178 593v30M1179 611v22M1181 579v56"/><path class="rb" d="M1178 597v19M1179 616v2M1181 618v7"/><path class="gw" d="M1182 560v46"/><path class="gb" d="M1182 567v39"/><path class="rw" d="M1183 567v32M1185 587v22M1186 594v26"/><path class="rb" d="M1183 567v26M1185 593v14M1186 607v9"/><path class="gw" d="M1187 579v37M1189 550v42"/><path class="gb" d="M1187 606v10M1189 551v41"/><path class="rw" d="M1190 541v32M1192 556v52M1193 584v24"/><path class="rb" d="M1190 551v19M1192 570v33M1193 603v4"/><path class="gw" d="M1194 582v20M1196 582v13"/><path class="gb" d="M1194 586v16M1196 583v3"/><path class="rw" d="M1197 555v32"/><path class="rb" d="M1197 583v4"/><path class="gw" d="M1198 550v19"/><path class="gb" d="M1198 556v13"/><path class="rw" d="M1200 560v16"/><path class="rb" d="M1200 560v12"/><path class="gw" d="M1201 567v12"/><path class="gb" d="M1201 571v1"/><path class="rw" d="M1203 573v13"/><path class="rb" d="M1203 573v2"/><path class="gw" d="M1204 567v19"/><path class="gb" d="M1204 568v7"/><path class="rw" d="M1205 564v20"/><path class="rb" d="M1205 568v2"/><path class="gw" d="M1207 561v21M1208 554v19"/><path class="gb" d="M1207 562v8M1208 559v3"/><path class="rw" d="M1209 556v26"/><path class="rb" d="M1209 559v17"/><path class="gw" d="M1211 557v29"/><path class="gb" d="M1211 558v18"/><path class="rw" d="M1212 572v21M1213 572v22"/><path class="rb" d="M1212 572v15M1213 587v2"/><path class="gw" d="M1215 564v22M1216 561v16"/><path class="gb" d="M1215 567v19M1216 562v5"/><path class="rw" d="M1218 542v26"/><path class="rb" d="M1218 562v5"/><path class="gw" d="M1219 520v29"/><path class="gb" d="M1219 544v5"/><path class="rw" d="M1220 524v28"/><path class="rb" d="M1220 544v4"/><path class="gw" d="M1222 526v22"/><path class="gb" d="M1222 530v18"/><path class="rw" d="M1223 522v22"/><path class="rb" d="M1223 530v13"/><path class="gw" d="M1224 523v20M1226 523v22"/><path class="gb" d="M1224 538v5M1226 527v11"/><path class="rw" d="M1227 528v20"/><path class="rb" d="M1227 528v19"/><path class="gw" d="M1229 520v30M1230 506v26M1231 482v28"/><path class="gb" d="M1229 525v22M1230 510v15M1231 490v20"/><path class="rw" d="M1233 476v34M1234 490v37"/><path class="rb" d="M1233 490v18M1234 508v14"/><path class="gw" d="M1235 493v25"/><path class="gb" d="M1235 494v24"/><path class="rw" d="M1237 499v26"/><path class="rb" d="M1237 499v24"/><path class="gw" d="M1238 516v13M1239 503v18"/><path class="gb" d="M1238 520v3M1239 503v17"/><path class="rw" d="M1241 504v7M1242 504v6"/><path class="rb" d="M1241 504v1M1242 505v1"/><path class="gw" d="M1244 503v8"/><path class="gb" d="M1244 504v2"/><path class="rw" d="M1245 503v9"/><path class="rb" d="M1245 504v2"/><path class="gw" d="M1246 503v10"/><path class="gb" d="M1246 505v1"/><path class="rw" d="M1248 506v9M1249 506v11"/><path class="rb" d="M1248 506v7M1249 513v4"/><path class="gw" d="M1250 509v12"/><path class="gb" d="M1250 510v7"/><path class="rw" d="M1252 510v12M1253 510v20M1255 527v27M1256 548v25"/><path class="rb" d="M1252 510v2M1253 512v16M1255 528v2M1256 548v18"/><path class="gw" d="M1257 548v18M1259 546v7M1260 541v11M1261 537v15"/><path class="gb" d="M1257 549v17M1259 548v1M1260 542v6M1261 538v4"/><path class="rw" d="M1263 533v15M1264 537v15"/><path class="rb" d="M1263 538v9M1264 547v5"/><path class="gw" d="M1266 541v12"/><path class="gb" d="M1266 544v8"/><path class="rw" d="M1267 547v12M1268 549v16M1270 559v14M1271 573v14M1272 584v68M1274 627v47"/><path class="rb" d="M1267 547v3M1268 550v3M1270 559v4M1271 573v2M1272 584v12M1274 627v5"/><path class="gw" d="M1275 596v50"/><path class="gb" d="M1275 600v32"/><path class="rw" d="M1276 598v28M1278 604v28M1279 599v32"/><path class="rb" d="M1276 600v2M1278 604v2M1279 606v23"/><path class="gw" d="M1281 596v16M1282 596v11"/><path class="gb" d="M1281 601v11M1282 598v3"/><path class="rw" d="M1283 597v9M1285 606v12M1286 616v27"/><path class="rb" d="M1283 598v7M1285 606v11M1286 617v25"/><path class="gw" d="M1287 618v28M1289 615v16M1290 610v8M1292 603v12"/><path class="gb" d="M1287 625v17M1289 617v8M1290 612v5M1292 603v9"/><path class="rw" d="M1293 595v15M1294 595v14"/><path class="rb" d="M1293 603v3M1294 606v1"/><path class="gw" d="M1296 593v12M1297 594v10M1298 588v15"/><path class="gb" d="M1296 604v1M1297 596v8M1298 588v8"/><path class="rw" d="M1300 586v21M1301 588v24M1303 604v18"/><path class="rb" d="M1300 588v1M1301 588v20M1303 608v10"/><path class="gw" d="M1304 588v34"/><path class="gb" d="M1304 589v29"/><path class="rw" d="M1305 578v21M1307 585v40M1308 600v28"/><path class="rb" d="M1305 589v7M1307 596v29M1308 625v1"/><path class="gw" d="M1309 566v41M1311 557v27M1312 560v15"/><path class="gb" d="M1309 570v37M1311 564v6M1312 562v2"/><path class="rw" d="M1313 565v11"/><path class="rb" d="M1313 565v9"/><path class="gw" d="M1315 568v19"/><path class="gb" d="M1315 568v6"/><path class="rw" d="M1316 572v20M1318 570v20M1319 577v16M1320 591v16"/><path class="rb" d="M1316 572v2M1318 574v12M1319 586v6M1320 592v11"/><path class="gw" d="M1322 597v13M1323 592v15"/><path class="gb" d="M1322 600v3M1323 593v7"/><path class="rw" d="M1324 592v13"/><path class="rb" d="M1324 593v11"/><path class="gw" d="M1326 592v13"/><path class="gb" d="M1326 602v2"/><path class="rw" d="M1327 591v16"/><path class="rb" d="M1327 602v4"/><path class="gw" d="M1329 587v14M1330 584v13"/><path class="gb" d="M1329 589v12M1330 585v4"/><path class="rw" d="M1331 586v8M1333 589v25M1334 614v98M1335 673v64"/><path class="rb" d="M1331 586v1M1333 589v22M1334 650v45M1335 710v2"/><path class="gw" d="M1337 664v17"/><path class="gb" d="M1337 673v8"/><path class="rw" d="M1338 674v19M1339 693v25M1341 709v14"/><path class="rb" d="M1338 674v19M1339 693v23M1341 716v4"/><path class="gw" d="M1342 644v80M1344 644v31"/><path class="gb" d="M1342 657v45M1344 647v10"/><path class="rw" d="M1345 657v15"/><path class="rb" d="M1345 657v11"/><path class="gw" d="M1346 661v8M1348 657v7M1349 651v6M1350 645v6M1352 642v6M1353 639v9M1355 638v12"/><path class="gb" d="M1346 667v1M1348 658v6M1349 652v5M1350 650v1M1352 647v1M1353 646v1M1355 641v5"/><path class="rw" d="M1356 645v8M1357 653v8M1359 661v8M1360 663v10M1361 665v11M1363 659v17"/><path class="rb" d="M1356 645v1M1357 653v2M1359 661v8M1360 669v1M1361 670v5M1363 675v1"/><path class="gw" d="M1364 652v15"/><path class="gb" d="M1364 654v13"/><path class="rw" d="M1366 649v10"/><path class="rb" d="M1366 654v2"/><path class="gw" d="M1367 649v9"/><path class="gb" d="M1367 651v5"/><path class="rw" d="M1368 649v8M1370 651v15M1371 651v18"/><path class="rb" d="M1368 651v5M1370 656v7M1371 663v3"/><path class="gw" d="M1372 650v14M1374 649v15"/><path class="gb" d="M1372 653v11M1374 651v2"/><path class="rw" d="M1375 653v9M1376 656v5"/><path class="rb" d="M1375 653v3M1376 656v1"/><path class="gw" d="M1378 654v7"/><path class="gb" d="M1378 655v2"/><path class="rw" d="M1379 654v8"/><path class="rb" d="M1379 655v2"/><path class="gw" d="M1381 652v8M1382 649v6M1383 649v7"/><path class="gb" d="M1381 652v5M1382 651v1M1383 649v2"/><path class="rw" d="M1385 650v7"/><path class="rb" d="M1385 650v5"/><path class="gw" d="M1386 649v6"/><path class="gb" d="M1386 649v6"/><path class="rw" d="M1387 649v14"/><path class="rb" d="M1387 649v10"/><path class="gw" d="M1389 656v9"/><path class="gb" d="M1389 658v1"/><path class="rw" d="M1390 662v6M1392 663v11"/><path class="rb" d="M1390 662v4M1392 666v7"/><path class="gw" d="M1393 662v17"/><path class="gb" d="M1393 665v8"/><path class="rw" d="M1394 664v16"/><path class="rb" d="M1394 665v2"/><path class="gw" d="M1396 660v14"/><path class="gb" d="M1396 663v4"/><path class="rw" d="M1397 658v9"/><path class="rb" d="M1397 663v3"/><path class="gw" d="M1398 646v12M1400 631v15M1401 614v26M1402 610v20"/><path class="gb" d="M1398 647v11M1400 633v13M1401 617v16M1402 616v1"/><path class="rw" d="M1404 618v13M1405 627v6M1407 627v10M1408 629v13M1409 627v15"/><path class="rb" d="M1404 618v9M1405 627v5M1407 632v3M1408 635v3M1409 638v3"/><path class="gw" d="M1411 630v10M1412 629v12"/><path class="gb" d="M1411 639v1M1412 632v7"/><path class="rw" d="M1413 633v9M1415 639v4"/><path class="rb" d="M1413 633v7M1415 640v2"/><path class="gw" d="M1416 639v6"/><path class="gb" d="M1416 640v2"/><path class="rw" d="M1418 641v6M1419 643v6M1420 645v9"/><path class="rb" d="M1418 641v1M1419 643v5M1420 648v5"/><path class="gw" d="M1422 647v9"/><path class="gb" d="M1422 649v4"/><path class="rw" d="M1423 646v13M1424 649v12"/><path class="rb" d="M1423 649v9M1424 658v2"/><path class="gw" d="M1426 649v17"/><path class="gb" d="M1426 650v10"/><path class="rw" d="M1427 649v13M1429 647v7"/><path class="rb" d="M1427 650v1M1429 651v2"/><path class="gw" d="M1430 641v6M1431 634v7M1433 614v20M1434 592v31"/><path class="gb" d="M1430 646v1M1431 639v2M1433 630v4M1434 614v9"/><path class="rw" d="M1435 600v20"/><path class="rb" d="M1435 614v4"/><path class="gw" d="M1437 611v10"/><path class="gb" d="M1437 612v6"/><path class="rw" d="M1438 614v7"/><path class="rb" d="M1438 614v5"/><path class="gw" d="M1439 613v7M1441 605v8M1442 593v12M1444 536v57M1445 524v38"/><path class="gb" d="M1439 614v5M1441 608v5M1442 595v10M1444 539v45M1445 536v3"/><path class="rw" d="M1446 540v31M1448 544v25M1449 544v16M1450 548v23"/><path class="rb" d="M1446 540v7M1448 547v1M1449 548v8M1450 556v14"/><path class="gw" d="M1452 555v19"/><path class="gb" d="M1452 558v12"/><path class="rw" d="M1453 552v21"/><path class="rb" d="M1453 558v11"/><path class="gw" d="M1455 552v19M1456 552v21"/><path class="gb" d="M1455 557v12M1456 554v3"/><path class="rw" d="M1457 566v12"/><path class="rb" d="M1457 566v9"/><path class="gw" d="M1459 574v13"/><path class="gb" d="M1459 574v1"/><path class="rw" d="M1460 574v17"/><path class="rb" d="M1460 574v2"/><path class="gw" d="M1461 575v12M1463 566v14M1464 547v23M1465 542v16"/><path class="gb" d="M1461 575v1M1463 569v6M1464 568v1M1465 546v12"/><path class="rw" d="M1467 546v13M1468 551v6M1470 557v6M1471 563v11M1472 568v13"/><path class="rb" d="M1467 546v10M1468 556v1M1470 557v1M1471 563v10M1472 573v5"/><path class="gw" d="M1474 574v9"/><path class="gb" d="M1474 574v4"/><path class="rw" d="M1475 575v9M1476 578v8"/><path class="rb" d="M1475 575v8M1476 583v1"/><path class="gw" d="M1478 578v10"/><path class="gb" d="M1478 581v3"/><path class="rw" d="M1479 580v7"/><path class="rb" d="M1479 581v1"/><path class="gw" d="M1481 579v10"/><path class="gb" d="M1481 580v1"/><path class="rw" d="M1482 580v9M1483 582v10"/><path class="rb" d="M1482 581v6M1483 587v4"/><path class="gw" d="M1485 583v8"/><path class="gb" d="M1485 583v8"/><path class="rw" d="M1486 582v10M1487 579v14"/><path class="rb" d="M1486 583v2M1487 585v3"/><path class="gw" d="M1489 571v23M1490 559v20"/><path class="gb" d="M1489 572v16M1490 564v8"/><path class="rw" d="M1492 563v13M1493 571v6M1494 577v6M1496 583v9M1497 592v10"/><path class="rb" d="M1492 564v9M1493 573v3M1494 577v2M1496 583v9M1497 592v10"/><path class="gw" d="M1498 598v10"/><path class="gb" d="M1498 600v2"/><path class="rw" d="M1500 601v9"/><path class="rb" d="M1500 601v7"/><path class="gw" d="M1501 596v12M1502 597v7"/><path class="gb" d="M1501 600v8M1502 598v2"/><path class="rw" d="M1504 594v6"/><path class="rb" d="M1504 598v1"/><path class="gw" d="M1505 595v6M1507 595v7"/><path class="gb" d="M1505 596v3M1507 595v1"/><path class="rw" d="M1508 597v7"/><path class="rb" d="M1508 597v7"/><path class="gw" d="M1509 601v4"/><path class="gb" d="M1509 602v2"/><path class="rw" d="M1511 604v10M1512 614v7M1513 621v5M1515 626v10M1516 636v12M1518 643v14"/><path class="rb" d="M1511 604v8M1512 614v1M1513 621v3M1515 626v2M1516 636v10M1518 646v9"/><path class="gw" d="M1519 641v19"/><path class="gb" d="M1519 643v12"/><path class="rw" d="M1520 640v21"/><path class="rb" d="M1520 643v12"/><path class="gw" d="M1522 638v25"/><path class="gb" d="M1522 645v10"/><path class="rw" d="M1523 654v15M1524 669v8M1526 671v12"/><path class="rb" d="M1523 654v13M1524 669v7M1526 676v4"/><path class="gw" d="M1527 657v28M1528 626v41"/><path class="gb" d="M1527 676v4M1528 639v28"/><path class="rw" d="M1530 626v19M1531 634v17"/><path class="rb" d="M1530 639v4M1531 643v3"/><path class="gw" d="M1533 639v13"/><path class="gb" d="M1533 642v4"/><path class="rw" d="M1534 640v15M1535 645v14"/><path class="rb" d="M1534 642v12M1535 654v3"/><path class="gw" d="M1537 645v18M1538 645v14"/><path class="gb" d="M1537 650v7M1538 647v3"/><path class="rw" d="M1539 645v29M1541 651v31"/><path class="rb" d="M1539 647v7M1541 654v4"/><path class="gw" d="M1542 640v27"/><path class="gb" d="M1542 646v12"/><path class="rw" d="M1544 647v27"/><path class="rb" d="M1544 647v21"/><path class="gw" d="M1545 648v21"/><path class="gb" d="M1545 650v18"/><path class="rw" d="M1546 645v22"/><path class="rb" d="M1546 650v15"/><path class="gw" d="M1548 648v17M1549 644v19"/><path class="gb" d="M1548 653v12M1549 647v6"/><path class="rw" d="M1550 644v10"/><path class="rb" d="M1550 647v5"/><path class="gw" d="M1552 638v10M1553 631v15"/><path class="gb" d="M1552 647v1M1553 632v14"/><path class="rw" d="M1555 632v15M1556 639v8M1557 642v17"/><path class="rb" d="M1555 632v13M1556 645v2M1557 647v8"/><path class="gw" d="M1559 649v16"/><path class="gb" d="M1559 651v4"/><path class="rw" d="M1560 641v18"/><path class="rb" d="M1560 651v5"/><path class="gw" d="M1561 637v11M1563 633v5M1564 625v8M1565 614v16"/><path class="gb" d="M1561 639v9M1563 637v1M1564 632v1M1565 617v13"/><path class="rw" d="M1567 615v13"/><path class="rb" d="M1567 617v7"/><path class="gw" d="M1568 619v7"/><path class="gb" d="M1568 620v4"/><path class="rw" d="M1570 626v13M1571 639v5M1572 643v5M1574 647v5M1575 652v5M1576 655v5"/><path class="rb" d="M1570 626v12M1571 639v2M1572 643v4M1574 647v5M1575 652v1M1576 655v3"/><path class="gw" d="M1578 655v12"/><path class="gb" d="M1578 655v3"/><path class="rw" d="M1579 667v53M1581 694v31"/><path class="rb" d="M1579 667v43M1581 710v8"/><path class="gw" d="M1582 682v18M1583 670v19"/><path class="gb" d="M1582 684v16M1583 673v11"/><path class="rw" d="M1585 661v26"/><path class="rb" d="M1585 673v6"/><path class="gw" d="M1586 614v74"/><path class="gb" d="M1586 634v45"/><path class="rw" d="M1587 591v84M1589 631v53"/><path class="rb" d="M1587 634v19M1589 653v22"/><path class="gw" d="M1590 633v26"/><path class="gb" d="M1590 636v23"/><path class="rw" d="M1592 642v30M1593 651v22M1594 652v22"/><path class="rb" d="M1592 642v24M1593 666v1M1594 667v1"/><path class="gw" d="M1596 656v24"/><path class="gb" d="M1596 659v8"/><path class="rw" d="M1597 651v18"/><path class="rb" d="M1597 659v9"/><path class="gw" d="M1598 651v16M1600 649v14M1601 645v9M1602 639v6M1604 635v5M1605 633v7"/><path class="gb" d="M1598 665v2M1600 660v1M1601 647v7M1602 644v1M1604 639v1M1605 635v5"/><path class="rw" d="M1607 634v6"/><path class="rb" d="M1607 635v3"/><path class="gw" d="M1608 634v5"/><path class="gb" d="M1608 636v2"/><path class="rw" d="M1609 639v7M1611 646v8M1612 654v9M1613 663v10"/><path class="rb" d="M1609 639v5M1611 646v7M1612 654v7M1613 663v8"/><path class="gw" d="M1615 669v10"/><path class="gb" d="M1615 669v2"/><path class="rw" d="M1616 663v20"/><path class="rb" d="M1616 669v9"/><path class="gw" d="M1618 654v19M1619 642v15M1620 639v13"/><path class="gb" d="M1618 656v17M1619 655v1M1620 642v10"/><path class="rw" d="M1622 641v10"/><path class="rb" d="M1622 642v7"/><path class="gw" d="M1623 642v12"/><path class="gb" d="M1623 643v6"/><path class="rw" d="M1624 645v14"/><path class="rb" d="M1624 645v1"/><path class="gw" d="M1626 640v13"/><path class="gb" d="M1626 641v4"/><path class="rw" d="M1627 637v7"/><path class="rb" d="M1627 641v2"/><path class="gw" d="M1628 633v5"/><path class="gb" d="M1628 633v5"/><path class="rw" d="M1630 625v10"/><path class="rb" d="M1630 633v2"/><path class="gw" d="M1631 617v15M1633 616v16"/><path class="gb" d="M1631 621v11M1633 619v2"/><path class="rw" d="M1634 624v9M1635 627v9M1637 625v14"/><path class="rb" d="M1634 624v8M1635 632v4M1637 636v1"/><path class="gw" d="M1638 621v15"/><path class="gb" d="M1638 623v13"/><path class="rw" d="M1639 615v10"/><path class="rb" d="M1639 623v1"/><path class="gw" d="M1641 604v15"/><path class="gb" d="M1641 606v13"/><path class="rw" d="M1642 598v15"/><path class="rb" d="M1642 606v5"/><path class="gw" d="M1644 600v10"/><path class="gb" d="M1644 608v2"/><path class="rw" d="M1645 603v6"/><path class="rb" d="M1645 608v1"/><path class="gw" d="M1646 606v9"/><path class="gb" d="M1646 607v2"/><path class="rw" d="M1648 607v14M1649 609v15"/><path class="rb" d="M1648 607v4M1649 611v9"/><path class="gw" d="M1650 610v11"/><path class="gb" d="M1650 610v10"/><path class="rw" d="M1652 611v5"/><path class="rb" d="M1652 611v4"/><path class="gw" d="M1653 607v5M1655 603v6M1656 598v7M1657 592v9"/><path class="gb" d="M1653 611v1M1655 607v2M1656 598v7M1657 595v3"/><path class="rw" d="M1659 589v10"/><path class="rb" d="M1659 595v3"/><path class="gw" d="M1660 590v5M1661 592v16"/><path class="gb" d="M1660 594v1M1661 594v1"/><path class="rw" d="M1663 599v23"/><path class="rb" d="M1663 599v16"/><path class="gw" d="M1664 604v17"/><path class="gb" d="M1664 605v10"/><path class="rw" d="M1665 603v13"/><path class="rb" d="M1665 605v8"/><path class="gw" d="M1667 606v5M1668 601v7M1670 596v11"/><path class="gb" d="M1667 607v4M1668 603v4M1670 598v5"/><path class="rw" d="M1671 596v8"/><path class="rb" d="M1671 598v4"/><path class="gw" d="M1672 597v5M1674 595v7"/><path class="gb" d="M1672 601v1M1674 601v1"/><path class="rw" d="M1675 596v13M1676 601v16M1678 600v17"/><path class="rb" d="M1675 602v6M1676 608v4M1678 612v3"/><path class="gw" d="M1679 601v17M1681 600v14M1682 598v13"/><path class="gb" d="M1679 604v11M1681 603v1M1682 602v1"/><path class="rw" d="M1683 606v15M1685 616v10M1686 615v16"/><path class="rb" d="M1683 606v10M1685 616v8M1686 624v2"/><path class="gw" d="M1687 614v11M1689 610v8M1690 606v7M1691 598v9M1693 568v30M1694 560v17"/><path class="gb" d="M1687 617v8M1689 611v6M1690 606v5M1691 600v6M1693 572v26M1694 571v1"/><path class="rw" d="M1696 568v20M1697 580v8M1698 588v7M1700 595v8M1701 603v18M1702 621v21M1704 642v9"/><path class="rb" d="M1696 571v3M1697 580v6M1698 588v2M1700 595v2M1701 603v15M1702 621v18M1704 642v7"/><path class="gw" d="M1705 639v11M1707 638v13M1708 624v24M1709 614v17M1711 595v19M1712 574v21M1713 557v22M1715 554v21"/><path class="gb" d="M1705 647v3M1707 640v7M1708 632v8M1709 619v12M1711 599v15M1712 593v2M1713 563v16M1715 557v6"/><path class="rw" d="M1716 567v19M1718 582v9M1719 585v11"/><path class="rb" d="M1716 567v3M1718 582v7M1719 589v7"/><path class="gw" d="M1720 586v13M1722 583v13"/><path class="gb" d="M1720 590v6M1722 584v6"/><path class="rw" d="M1723 584v13"/><path class="rb" d="M1723 584v12"/><path class="gw" d="M1724 581v16M1726 579v19"/><path class="gb" d="M1724 586v10M1726 584v2"/><path class="rw" d="M1727 577v14"/><path class="rb" d="M1727 584v5"/><path class="gw" d="M1728 574v9"/><path class="gb" d="M1728 575v8"/><path class="rw" d="M1730 571v5"/><path class="rb" d="M1730 575v1"/><path class="gw" d="M1731 512v59M1733 505v45"/><path class="gb" d="M1731 526v45M1733 512v1"/><path class="rw" d="M1734 529v15"/><path class="rb" d="M1734 529v1"/><path class="gw" d="M1735 523v15"/><path class="gb" d="M1735 524v6"/><path class="rw" d="M1737 524v8"/><path class="rb" d="M1737 524v2"/><path class="gw" d="M1738 516v17M1739 508v19"/><path class="gb" d="M1738 517v9M1739 508v9"/><path class="rw" d="M1741 507v18M1742 512v27"/><path class="rb" d="M1741 508v12M1742 520v14"/><path class="gw" d="M1744 517v24"/><path class="gb" d="M1744 518v16"/><path class="rw" d="M1745 526v16"/><path class="rb" d="M1745 526v5"/><path class="gw" d="M1746 515v20M1748 513v21"/><path class="gb" d="M1746 518v13M1748 515v3"/><path class="rw" d="M1749 516v17M1750 522v12M1752 528v7M1753 535v8M1754 543v8M1756 551v6M1757 557v7M1759 564v6M1760 568v6M1761 566v10M1763 564v14"/><path class="rb" d="M1749 516v14M1750 530v2M1752 532v2M1753 535v6M1754 543v6M1756 551v6M1757 557v5M1759 564v5M1760 569v4M1761 573v2M1763 575v1"/><path class="gw" d="M1764 555v24M1765 551v13M1767 549v5M1768 546v6M1770 545v5"/><path class="gb" d="M1764 574v2M1765 555v9M1767 551v3M1768 550v1M1770 545v5"/><path class="rw" d="M1771 544v4"/><path class="rb" d="M1771 545v2"/><path class="gw" d="M1772 543v4"/><path class="gb" d="M1772 543v4"/><path class="rw" d="M1774 541v6"/><path class="rb" d="M1774 543v3"/><path class="gw" d="M1775 530v17"/><path class="gb" d="M1775 533v13"/><path class="rw" d="M1776 521v16M1778 523v25"/><path class="rb" d="M1776 533v4M1778 537v10"/><path class="gw" d="M1779 535v18"/><path class="gb" d="M1779 538v9"/><path class="rw" d="M1781 547v7"/><path class="rb" d="M1781 547v1"/><path class="gw" d="M1782 544v9"/><path class="gb" d="M1782 546v1"/><path class="rw" d="M1783 545v9"/><path class="rb" d="M1783 546v2"/><path class="gw" d="M1785 535v18"/><path class="gb" d="M1785 540v8"/><path class="rw" d="M1786 531v11"/><path class="rb" d="M1786 540v1"/><path class="gw" d="M1787 527v5"/><path class="gb" d="M1787 527v5"/><path class="rw" d="M1789 525v5"/><path class="rb" d="M1789 527v3"/><path class="gw" d="M1790 523v5"/><path class="gb" d="M1790 523v5"/><path class="rw" d="M1791 521v4"/><path class="rb" d="M1791 523v2"/><path class="gw" d="M1793 517v9M1794 513v11"/><path class="gb" d="M1793 520v5M1794 516v4"/><path class="rw" d="M1796 514v10M1797 518v8M1798 522v7M1800 525v11"/><path class="rb" d="M1796 516v6M1797 522v4M1798 526v1M1800 527v9"/><path class="gw" d="M1801 526v16"/><path class="gb" d="M1801 530v6"/><path class="rw" d="M1802 527v14"/><path class="rb" d="M1802 530v7"/><path class="gw" d="M1804 526v11M1805 526v9M1807 526v6"/><path class="gb" d="M1804 529v8M1805 527v2M1807 526v1"/><path class="rw" d="M1808 524v5"/><path class="rb" d="M1808 527v1"/><path class="gw" d="M1809 523v5M1811 522v6M1812 521v8M1813 519v10"/><path class="gb" d="M1809 527v1M1811 523v4M1812 522v1M1813 520v2"/><path class="rw" d="M1815 521v11M1816 525v7M1817 529v5M1819 532v6"/><path class="rb" d="M1815 521v1M1816 525v7M1817 532v1M1819 533v4"/><path class="gw" d="M1820 536v5"/><path class="gb" d="M1820 536v1"/><path class="rw" d="M1822 532v10"/><path class="rb" d="M1822 536v6"/><path class="gw" d="M1823 530v16M1824 530v16M1826 520v16"/><path class="gb" d="M1823 532v10M1824 531v1M1826 521v10"/><path class="rw" d="M1827 515v10"/><path class="rb" d="M1827 521v1"/><path class="gw" d="M1828 513v5M1830 511v5M1831 493v19M1833 459v34"/><path class="gb" d="M1828 515v3M1830 511v4M1831 498v13M1833 466v27"/><path class="rw" d="M1834 450v25M1835 467v17M1837 484v14M1838 498v6M1839 497v11M1841 498v14"/><path class="rb" d="M1834 466v2M1835 468v12M1837 484v12M1838 498v6M1839 504v1M1841 505v7"/><path class="gw" d="M1842 497v17M1844 497v16M1845 494v17"/><path class="gb" d="M1842 498v14M1844 497v1M1845 496v1"/><path class="rw" d="M1846 495v21"/><path class="rb" d="M1846 497v14"/><path class="gw" d="M1848 506v14"/><path class="gb" d="M1848 507v4"/><path class="rw" d="M1849 503v16"/><path class="rb" d="M1849 507v9"/><path class="gw" d="M1850 502v13"/><path class="gb" d="M1850 506v9"/><path class="rw" d="M1852 503v14"/><path class="rb" d="M1852 506v1"/><path class="gw" d="M1853 501v12"/><path class="gb" d="M1853 503v3"/><path class="rw" d="M1854 503v13"/><path class="rb" d="M1854 503v12"/><path class="gw" d="M1856 510v7M1857 510v7"/><path class="gb" d="M1856 514v1M1857 510v5"/><path class="rw" d="M1859 508v10"/><path class="rb" d="M1859 510v8"/><path class="gw" d="M1860 506v13M1861 502v10M1863 497v8"/><path class="gb" d="M1860 509v9M1861 504v5M1863 499v5"/><path class="rw" d="M1864 494v10"/><path class="rb" d="M1864 499v3"/><path class="gw" d="M1865 493v11"/><path class="gb" d="M1865 494v8"/><path class="rw" d="M1867 496v10"/><path class="rb" d="M1867 496v10"/><path class="gw" d="M1868 492v14M1870 488v11"/><path class="gb" d="M1868 504v2M1870 488v11"/><path class="rw" d="M1871 487v5"/><path class="rb" d="M1871 488v3"/><path class="gw" d="M1872 482v11M1874 479v17"/><path class="gb" d="M1872 483v8M1874 482v1"/><path class="rw" d="M1875 486v24M1876 497v21"/><path class="rb" d="M1875 486v19M1876 505v6"/><path class="gw" d="M1878 494v23"/><path class="gb" d="M1878 494v17"/><path class="rw" d="M1879 501v21M1880 515v14M1882 521v9"/><path class="rb" d="M1879 501v18M1880 519v6M1882 525v3"/><path class="gw" d="M1883 512v18M1885 480v38M1886 469v14M1887 458v19M1889 458v23"/><path class="gb" d="M1883 514v14M1885 512v2M1886 480v3M1887 462v15M1889 459v3"/><path class="rw" d="M1890 464v25"/><path class="rb" d="M1890 464v23"/><path class="gw" d="M1891 464v25M1893 460v17M1894 385v79M1896 381v43"/><path class="gb" d="M1891 468v19M1893 463v5M1894 406v45M1896 408v1"/><path class="rw" d="M1897 416v19M1898 435v95M1900 491v54M1901 523v84"/><path class="rb" d="M1897 416v13M1898 435v21M1900 491v39M1901 544v45"/><path class="gw" d="M1902 535v77"/><path class="gb" d="M1902 537v45"/><path class="rw" d="M1904 510v43"/><path class="rb" d="M1904 537v3"/><path class="gw" d="M1905 523v47"/><path class="gb" d="M1905 531v9"/><path class="rw" d="M1907 538v29M1908 525v24"/><path class="rb" d="M1907 538v8M1908 546v1"/><path class="gw" d="M1909 522v9M1911 516v13M1912 510v16"/><path class="gb" d="M1909 524v7M1911 517v7M1912 511v6"/><path class="rw" d="M1913 508v16M1915 515v27M1916 529v25M1917 525v29"/><path class="rb" d="M1913 511v10M1915 521v12M1916 533v2M1917 535v18"/><path class="gw" d="M1919 522v29"/><path class="gb" d="M1919 547v4"/><path class="rw" d="M1920 539v27M1922 563v39M1923 571v36"/><path class="rb" d="M1920 547v14M1922 563v28M1923 591v5"/><path class="gw" d="M1924 556v36"/><path class="gb" d="M1924 558v34"/><path class="rw" d="M1926 551v23"/><path class="rb" d="M1926 558v13"/><path class="gw" d="M1927 560v28"/><path class="gb" d="M1927 560v11"/><path class="rw" d="M1928 569v21"/><path class="rb" d="M1928 569v20"/><path class="gw" d="M1930 572v20"/><path class="gb" d="M1930 572v17"/><path class="rw" d="M1931 579v26M1933 580v24"/><path class="rb" d="M1931 579v2M1933 581v18"/><path class="gw" d="M1934 576v26"/><path class="gb" d="M1934 581v18"/><path class="rw" d="M1935 572v42"/><path class="rb" d="M1935 581v33"/><path class="gw" d="M1937 594v28"/><path class="gb" d="M1937 599v15"/><path class="rw" d="M1938 585v28M1939 590v42M1941 621v28M1942 649v26M1944 673v13M1945 666v23"/><path class="rb" d="M1938 599v9M1939 608v19M1941 627v15M1942 649v18M1944 673v11M1945 684v2"/><path class="gw" d="M1946 647v27"/><path class="gb" d="M1946 651v23"/><path class="rw" d="M1948 650v21M1949 660v11M1950 667v23"/><path class="rb" d="M1948 651v1M1949 660v10M1950 670v20"/><path class="gw" d="M1952 674v24M1953 661v21M1954 655v11M1956 649v14M1957 645v10"/><path class="gb" d="M1952 675v15M1953 663v12M1954 658v5M1956 650v8M1957 646v4"/><path class="rw" d="M1959 646v17M1960 650v15"/><path class="rb" d="M1959 646v1M1960 650v11"/><path class="gw" d="M1961 642v19M1963 634v17"/><path class="gb" d="M1961 657v4M1963 639v12"/><path class="rw" d="M1964 631v12"/><path class="rb" d="M1964 639v1"/><path class="gw" d="M1965 630v11M1967 627v8M1968 625v8"/><path class="gb" d="M1965 639v1M1967 633v2M1968 631v2"/><path class="rw" d="M1970 623v11"/><path class="rb" d="M1970 631v2"/><path class="gw" d="M1971 622v12"/><path class="gb" d="M1971 625v8"/><path class="rw" d="M1972 627v9"/><path class="rb" d="M1972 627v7"/><path class="gw" d="M1974 633v6"/><path class="gb" d="M1974 633v1"/><path class="rw" d="M1975 639v7M1976 646v18"/><path class="rb" d="M1975 639v6M1976 646v14"/><path class="gw" d="M1978 644v26M1979 638v21"/><path class="gb" d="M1978 652v8M1979 641v11"/><path class="rw" d="M1980 642v12M1982 644v10M1983 647v9"/><path class="rb" d="M1980 642v9M1982 651v2M1983 653v1"/><path class="gw" d="M1985 643v17"/><path class="gb" d="M1985 643v11"/><path class="rw" d="M1986 624v37"/><path class="rb" d="M1986 643v16"/><path class="gw" d="M1987 606v22M1989 594v12M1990 586v22"/><path class="gb" d="M1987 608v20M1989 596v10M1990 594v2"/><path class="rw" d="M1991 608v11"/><path class="rb" d="M1991 608v10"/><path class="gw" d="M1993 615v5"/><path class="gb" d="M1993 615v3"/><path class="rw" d="M1994 618v9M1996 625v13M1997 633v9M1998 636v6"/><path class="rb" d="M1994 618v1M1996 625v1M1997 633v7M1998 640v1"/><path class="gw" d="M2000 621v19"/><path class="gb" d="M2000 622v18"/><path class="rw" d="M2001 616v13"/><path class="rb" d="M2001 622v3"/><path class="gw" d="M2002 615v12M2004 614v10M2005 613v6"/><path class="gb" d="M2002 623v2M2004 617v6M2005 614v3"/><path class="rw" d="M2007 606v14M2008 604v23M2009 621v12"/><path class="rb" d="M2007 614v3M2008 617v8M2009 625v6"/><path class="gw" d="M2011 626v6M2012 622v10"/><path class="gb" d="M2011 630v1M2012 624v6"/><path class="rw" d="M2013 618v9M2015 616v10"/><path class="rb" d="M2013 624v1M2015 625v1"/><path class="gw" d="M2016 618v5"/><path class="gb" d="M2016 622v1"/><path class="rw" d="M2017 617v11M2019 617v17M2020 630v11"/><path class="rb" d="M2017 622v6M2019 628v2M2020 630v8"/><path class="gw" d="M2022 634v6M2023 631v10"/><path class="gb" d="M2022 634v4M2023 633v1"/><path class="rw" d="M2024 634v7"/><path class="rb" d="M2024 634v1"/><path class="gw" d="M2026 610v31M2027 595v23M2028 591v39"/><path class="gb" d="M2026 617v18M2027 600v17M2028 597v3"/><path class="rw" d="M2030 618v30"/><path class="rb" d="M2030 618v20"/><path class="gw" d="M2031 615v25"/><path class="gb" d="M2031 623v15"/><path class="rw" d="M2033 621v19M2034 627v14"/><path class="rb" d="M2033 623v2M2034 627v11"/><path class="gw" d="M2035 630v11M2037 631v13"/><path class="gb" d="M2035 637v1M2037 635v3"/><path class="rw" d="M2038 633v14M2039 637v13"/><path class="rb" d="M2038 635v2M2039 637v3"/><path class="gw" d="M2041 638v12"/><path class="gb" d="M2041 639v1"/><path class="rw" d="M2042 638v11M2043 638v14"/><path class="rb" d="M2042 640v7M2043 647v2"/><path class="gw" d="M2045 638v15M2046 635v14M2048 630v7"/><path class="gb" d="M2045 648v1M2046 639v9M2048 632v5"/><path class="rw" d="M2049 626v11M2050 627v11"/><path class="rb" d="M2049 632v3M2050 635v1"/><path class="gw" d="M2052 632v7"/><path class="gb" d="M2052 634v2"/><path class="rw" d="M2053 637v5M2054 642v5M2056 646v5M2057 646v9"/><path class="rb" d="M2053 637v5M2054 642v4M2056 646v4M2057 650v3"/><path class="gw" d="M2059 648v10"/><path class="gb" d="M2059 650v3"/><path class="rw" d="M2060 648v9M2061 649v5"/><path class="rb" d="M2060 650v1M2061 650v4"/><path class="gw" d="M2063 645v6"/><path class="gb" d="M2063 645v6"/><path class="rw" d="M2064 641v8"/><path class="rb" d="M2064 645v3"/><path class="gw" d="M2065 639v7M2067 636v8M2068 631v12M2070 625v14"/><path class="gb" d="M2065 639v7M2067 638v1M2068 633v5M2070 628v5"/><path class="rw" d="M2071 625v13M2072 629v10"/><path class="rb" d="M2071 628v9M2072 637v2"/><path class="gw" d="M2074 632v6M2075 632v6"/><path class="gb" d="M2074 634v4M2075 633v1"/><path class="rw" d="M2076 632v7M2078 633v5M2079 632v5"/><path class="rb" d="M2076 633v1M2078 634v1M2079 634v1"/><path class="gw" d="M2080 618v14M2082 607v11M2083 599v8M2085 594v8M2086 590v14"/><path class="gb" d="M2080 618v14M2082 610v8M2083 605v2M2085 595v7M2086 593v2"/><path class="rw" d="M2087 591v17M2089 588v24"/><path class="rb" d="M2087 593v13M2089 606v2"/><path class="gw" d="M2090 581v22M2091 582v13"/><path class="gb" d="M2090 598v5M2091 582v13"/><path class="rw" d="M2093 579v17M2094 564v32"/><path class="rb" d="M2093 582v8M2094 590v2"/><path class="gw" d="M2096 561v17"/><path class="gb" d="M2096 564v14"/><path class="rw" d="M2097 568v13"/><path class="rb" d="M2097 568v13"/><path class="gw" d="M2098 575v6"/><path class="gb" d="M2098 576v5"/><path class="rw" d="M2100 575v11M2101 578v13"/><path class="rb" d="M2100 576v9M2101 585v2"/><path class="gw" d="M2102 573v19M2104 570v20M2105 568v16M2106 572v18"/><path class="gb" d="M2102 586v1M2104 585v1M2105 581v3M2106 574v7"/><path class="rw" d="M2108 574v17M2109 577v13"/><path class="rb" d="M2108 574v3M2109 577v4"/><path class="gw" d="M2111 578v9M2112 571v12M2113 551v20M2115 549v7"/><path class="gb" d="M2111 578v3M2112 574v4M2113 555v16M2115 550v5"/><path class="rw" d="M2116 550v7"/><path class="rb" d="M2116 550v7"/><path class="gw" d="M2117 550v17"/><path class="gb" d="M2117 551v6"/><path class="rw" d="M2119 554v13"/><path class="rb" d="M2119 554v9"/><path class="gw" d="M2120 555v10"/><path class="gb" d="M2120 557v6"/><path class="rw" d="M2122 556v8"/><path class="rb" d="M2122 557v2"/><path class="gw" d="M2123 556v8"/><path class="gb" d="M2123 558v1"/><path class="rw" d="M2124 556v7"/><path class="rb" d="M2124 558v5"/><path class="gw" d="M2126 556v7M2127 558v5"/><path class="gb" d="M2126 562v1M2127 558v4"/><path class="rw" d="M2128 558v6"/><path class="rb" d="M2128 558v5"/><path class="gw" d="M2130 559v8M2131 560v12"/><path class="gb" d="M2130 561v2M2131 560v1"/><path class="rw" d="M2133 559v19"/><path class="rb" d="M2133 561v15"/><path class="gw" d="M2134 572v12"/><path class="gb" d="M2134 575v1"/><path class="rw" d="M2135 572v10"/><path class="rb" d="M2135 575v6"/><path class="gw" d="M2137 574v9"/><path class="gb" d="M2137 576v5"/><path class="rw" d="M2138 579v5"/><path class="rb" d="M2138 579v4"/><path class="gw" d="M2139 581v4"/><path class="gb" d="M2139 582v1"/><path class="rw" d="M2141 580v6M2142 581v7"/><path class="rb" d="M2141 582v3M2142 585v2"/><path class="gw" d="M2143 582v6"/><path class="gb" d="M2143 582v5"/><path class="rw" d="M2145 582v6M2146 583v5M2148 584v5"/><path class="rb" d="M2145 582v2M2146 584v1M2148 584v4"/><path class="gw" d="M2149 581v5M2150 576v6M2152 574v4M2153 572v5"/><path class="gb" d="M2149 585v1M2150 581v1M2152 574v4M2153 572v2"/><path class="rw" d="M2154 572v4M2156 571v4M2157 571v7"/><path class="rb" d="M2154 572v1M2156 573v2M2157 575v1"/><path class="gw" d="M2159 570v7M2160 569v12"/><path class="gb" d="M2159 572v4M2160 571v1"/><path class="rw" d="M2161 569v17"/><path class="rb" d="M2161 571v11"/><path class="gw" d="M2163 575v10"/><path class="gb" d="M2163 578v4"/><path class="rw" d="M2164 576v8M2165 578v5M2167 578v5M2168 577v7"/><path class="rb" d="M2164 578v1M2165 578v1M2167 579v3M2168 582v2"/><path class="gw" d="M2169 577v7"/><path class="gb" d="M2169 579v5"/><path class="rw" d="M2171 578v7M2172 581v5M2174 585v16M2175 601v10M2176 611v7M2178 618v6M2179 624v6M2180 628v11"/><path class="rb" d="M2171 579v6M2172 585v1M2174 585v5M2175 601v1M2176 611v7M2178 618v1M2179 624v4M2180 628v10"/><path class="gw" d="M2182 627v17M2183 626v13M2185 624v11"/><path class="gb" d="M2182 627v11M2183 626v1M2185 624v2"/><path class="rw" d="M2186 624v7"/><path class="rb" d="M2186 624v2"/><path class="gw" d="M2187 622v6M2189 622v5"/><path class="gb" d="M2187 624v2M2189 623v1"/><path class="rw" d="M2190 620v4"/><path class="rb" d="M2190 623v1"/><path class="gw" d="M2191 616v8M2193 611v11M2194 609v12"/><path class="gb" d="M2191 618v5M2193 614v4M2194 611v3"/><path class="rw" d="M2196 614v8M2197 616v7M2198 614v10"/><path class="rb" d="M2196 614v2M2197 616v1M2198 617v6"/><path class="gw" d="M2200 607v14M2201 606v9M2202 609v9"/><path class="gb" d="M2200 620v1M2201 614v1M2202 609v5"/><path class="rw" d="M2204 611v6M2205 616v5M2206 621v5M2208 624v5"/><path class="rb" d="M2204 611v5M2205 616v2M2206 621v4M2208 625v3"/><path class="gw" d="M2209 622v6"/><path class="gb" d="M2209 624v4"/><path class="rw" d="M2211 622v7"/><path class="rb" d="M2211 624v4"/><path class="gw" d="M2212 617v10M2213 615v6M2215 611v8"/><path class="gb" d="M2212 617v10M2213 615v2M2215 612v3"/><path class="rw" d="M2216 610v10"/><path class="rb" d="M2216 612v7"/><path class="gw" d="M2217 610v10"/><path class="gb" d="M2217 610v9"/><path class="rw" d="M2219 610v11M2220 608v11"/><path class="rb" d="M2219 610v2M2220 612v5"/><path class="gw" d="M2222 607v6M2223 603v8M2224 599v11"/><path class="gb" d="M2222 609v4M2223 605v4M2224 599v6"/><path class="rw" d="M2226 599v9M2227 601v8"/><path class="rb" d="M2226 599v9M2227 608v1"/><path class="gw" d="M2228 601v8M2230 602v7M2231 602v8"/><path class="gb" d="M2228 608v1M2230 604v4M2231 603v1"/><path class="rw" d="M2232 603v7"/><path class="rb" d="M2232 603v1"/><path class="gw" d="M2234 602v8"/><path class="gb" d="M2234 602v1"/><path class="rw" d="M2235 601v9"/><path class="rb" d="M2235 602v6"/><path class="gw" d="M2237 600v12"/><path class="gb" d="M2237 602v6"/><path class="rw" d="M2238 600v12"/><path class="rb" d="M2238 602v9"/><path class="gw" d="M2239 600v7"/><path class="gb" d="M2239 601v6"/><path class="rw" d="M2241 598v4"/><path class="rb" d="M2241 601v1"/><path class="gw" d="M2242 593v6M2243 580v13M2245 577v4M2246 575v6"/><path class="gb" d="M2242 598v1M2243 590v3M2245 580v1M2246 576v4"/><path class="rw" d="M2248 575v5"/><path class="rb" d="M2248 576v1"/><path class="gw" d="M2249 575v4M2250 574v5"/><path class="gb" d="M2249 575v1M2250 575v1"/><path class="rw" d="M2252 576v7M2253 579v9"/><path class="rb" d="M2252 576v6M2253 582v5"/><path class="gw" d="M2254 580v9"/><path class="gb" d="M2254 580v8"/><path class="rw" d="M2256 581v11M2257 585v11"/><path class="rb" d="M2256 581v10M2257 591v4"/><path class="gw" d="M2259 583v10"/><path class="gb" d="M2259 585v8"/><path class="rw" d="M2260 584v9M2261 586v7"/><path class="rb" d="M2260 585v1M2261 586v6"/><path class="gw" d="M2263 586v7"/><path class="gb" d="M2263 586v6"/><path class="rw" d="M2264 585v8"/><path class="rb" d="M2264 586v5"/><path class="gw" d="M2265 586v6"/><path class="gb" d="M2265 587v4"/><path class="rw" d="M2267 587v4"/><path class="rb" d="M2267 587v4"/><path class="gw" d="M2268 587v4"/><path class="gb" d="M2268 590v1"/><path class="rw" d="M2269 586v6"/><path class="rb" d="M2269 590v1"/><path class="gw" d="M2271 575v11M2272 560v17"/><path class="gb" d="M2271 577v9M2272 560v17"/><path class="rw" d="M2274 560v13M2275 569v19M2276 576v12"/><path class="rb" d="M2274 560v3M2275 569v15M2276 584v3"/><path class="gw" d="M2278 581v4"/><path class="gb" d="M2278 584v1"/><path class="rw" d="M2279 580v6"/><path class="rb" d="M2279 585v1"/><path class="gw" d="M2280 578v8M2282 577v10M2283 570v17M2285 563v25"/><path class="gb" d="M2280 580v6M2282 579v1M2283 573v7M2285 564v9"/><path class="rw" d="M2286 561v22"/><path class="rb" d="M2286 564v13"/><path class="gw" d="M2287 563v18"/><path class="gb" d="M2287 565v12"/><path class="rw" d="M2289 562v18"/><path class="rb" d="M2289 565v13"/><path class="gw" d="M2290 561v22M2291 565v18M2293 561v11M2294 548v13M2296 541v13M2297 539v19"/><path class="gb" d="M2290 577v1M2291 566v11M2293 563v3M2294 552v9M2296 543v9M2297 542v1"/><path class="rw" d="M2298 556v12M2300 566v5M2301 571v5M2302 573v8"/><path class="rb" d="M2298 556v4M2300 566v1M2301 571v4M2302 575v4"/><path class="gw" d="M2304 575v12"/><path class="gb" d="M2304 577v2"/><path class="rw" d="M2305 577v23M2306 575v29"/><path class="rb" d="M2305 577v18M2306 595v4"/><path class="gw" d="M2308 576v12M2309 576v7"/><path class="gb" d="M2308 586v2M2309 578v5"/><path class="rw" d="M2311 576v12"/><path class="rb" d="M2311 578v8"/><path class="gw" d="M2312 572v13"/><path class="gb" d="M2312 575v10"/><path class="rw" d="M2313 570v14"/><path class="rb" d="M2313 575v8"/><path class="gw" d="M2315 566v14M2316 564v5M2317 563v7"/><path class="gb" d="M2315 569v11M2316 567v2M2317 564v3"/><path class="rw" d="M2319 562v9M2320 562v17M2322 570v14"/><path class="rb" d="M2319 564v1M2320 565v13M2322 578v5"/><path class="gw" d="M2323 574v9M2324 560v20"/><path class="gb" d="M2323 582v1M2324 566v14"/><path class="rw" d="M2326 561v14"/><path class="rb" d="M2326 566v8"/><path class="gw" d="M2327 565v6"/><path class="gb" d="M2327 565v6"/><path class="rw" d="M2328 566v6M2330 567v6"/><path class="rb" d="M2328 566v1M2330 567v1"/><path class="gw" d="M2331 565v9"/><path class="gb" d="M2331 565v3"/><path class="rw" d="M2332 563v13M2334 565v12"/><path class="rb" d="M2332 565v2M2334 567v9"/><path class="gw" d="M2335 566v8"/><path class="gb" d="M2335 566v8"/><path class="rw" d="M2337 567v10"/><path class="rb" d="M2337 567v8"/><path class="gw" d="M2338 569v19"/><path class="gb" d="M2338 573v2"/><path class="rw" d="M2339 577v10M2341 578v11"/><path class="rb" d="M2339 577v7M2341 584v3"/><path class="gw" d="M2342 582v6"/><path class="gb" d="M2342 586v1"/><path class="rw" d="M2343 585v6"/><path class="rb" d="M2343 586v3"/><path class="gw" d="M2345 586v7M2346 586v5"/><path class="gb" d="M2345 588v1M2346 587v1"/><path class="rw" d="M2348 585v4"/><path class="rb" d="M2348 587v1"/><path class="gw" d="M2349 574v14M2350 567v17"/><path class="gb" d="M2349 586v2M2350 568v16"/><path class="rw" d="M2352 571v13M2353 572v13"/><path class="rb" d="M2352 571v11M2353 582v2"/><path class="gw" d="M2354 571v12"/><path class="gb" d="M2354 575v8"/><path class="rw" d="M2356 570v14M2357 577v11"/><path class="rb" d="M2356 575v7M2357 582v5"/><path class="gw" d="M2359 578v9M2360 581v5"/><path class="gb" d="M2359 585v2M2360 584v1"/><path class="rw" d="M2361 581v10M2363 581v17"/><path class="rb" d="M2361 584v4M2363 588v9"/><path class="gw" d="M2364 579v21"/><path class="gb" d="M2364 580v17"/><path class="rw" d="M2365 576v24"/><path class="rb" d="M2365 580v16"/><path class="gw" d="M2367 590v23"/><path class="gb" d="M2367 595v1"/><path class="rw" d="M2368 606v19"/><path class="rb" d="M2368 606v14"/><path class="gw" d="M2369 606v14M2371 587v19M2372 578v14M2374 582v10"/><path class="gb" d="M2369 618v2M2371 591v15M2372 589v2M2374 583v6"/><path class="rw" d="M2375 581v10"/><path class="rb" d="M2375 583v7"/><path class="gw" d="M2376 570v20M2378 559v11M2379 541v21"/><path class="gb" d="M2376 586v4M2378 560v10M2379 542v18"/><path class="rw" d="M2380 535v128"/><path class="rb" d="M2380 591v45"/><path class="gw" d="M2382 621v56M2383 606v55"/><path class="gb" d="M2382 626v10M2383 614v12"/><path class="rw" d="M2385 617v37M2386 621v22"/><path class="rb" d="M2385 619v6M2386 625v18"/><path class="gw" d="M2387 625v14M2389 609v21M2390 589v20M2391 578v11M2393 576v22"/><path class="gb" d="M2387 629v10M2389 613v16M2390 591v18M2391 580v9M2393 579v1"/><path class="rw" d="M2394 593v20M2395 602v11"/><path class="rb" d="M2394 593v16M2395 609v2"/><path class="gw" d="M2397 590v25"/><path class="gb" d="M2397 591v20"/><path class="rw" d="M2398 583v26M2400 600v36"/><path class="rb" d="M2398 591v14M2400 605v30"/><path class="gw" d="M2401 606v38"/><path class="gb" d="M2401 608v27"/><path class="rw" d="M2402 599v30M2404 608v27"/><path class="rb" d="M2402 608v14M2404 622v12"/><path class="gw" d="M2405 603v29"/><path class="gb" d="M2405 608v24"/><path class="rw" d="M2406 604v19"/><path class="rb" d="M2406 608v11"/><path class="gw" d="M2408 609v11"/><path class="gb" d="M2408 610v9"/><path class="rw" d="M2409 618v18"/><path class="rb" d="M2409 618v13"/><path class="gw" d="M2411 625v12"/><path class="gb" d="M2411 628v3"/><path class="rw" d="M2412 628v5M2413 629v65M2414 694v164"/><path class="rb" d="M2412 628v4M2413 629v2M2414 694v2"/><path class="gw" d="M2416 750v39"/><path class="gb" d="M2416 750v39"/><path class="rw" d="M2417 760v54M2418 774v21"/><path class="rb" d="M2417 778v2M2418 774v21"/><path class="gw" d="M2420 777v11"/><path class="gb" d="M2420 780v2"/><path class="rw" d="M2421 785v226"/><path class="rb" d="M2421 785v2"/><path class="gw" d="M2423 894v90"/><path class="gb" d="M2423 894v90"/><path class="rw" d="M2424 894v207"/><path class="rb" d="M2424 912v27"/><path class="gw" d="M2427 1002v114"/><path class="gb" d="M2427 1002v114"/><path class="rw" d="M2428 1018v79"/><path class="rb" d="M2428 1018v79"/><path class="gw" d="M2429 1040v67M2430 963v53"/><path class="gb" d="M2429 1058v2M2430 963v53"/><path class="rw" d="M2431 985v30"/><path class="rb" d="M2431 993v1"/><path class="gw" d="M2432 954v52M2434 944v19"/><path class="gb" d="M2432 992v2M2434 945v18"/><path class="rw" d="M2435 943v75"/><path class="rb" d="M2435 955v45"/><path class="gw" d="M2437 964v49"/><path class="gb" d="M2437 970v30"/><path class="rw" d="M2438 967v38M2439 994v13M2441 1000v11M2442 1000v14"/><path class="rb" d="M2438 971v6M2439 994v4M2441 1000v8M2442 1008v6"/><path class="gw" d="M2443 973v42M2445 961v27"/><path class="gb" d="M2443 1005v9M2445 972v16"/><path class="rw" d="M2446 972v21M2448 987v10M2449 991v12"/><path class="rb" d="M2446 972v2M2448 987v8M2449 995v4"/><path class="gw" d="M2450 988v17M2452 983v17"/><path class="gb" d="M2450 989v10M2452 985v4"/><path class="rw" d="M2453 980v19M2454 992v39"/><path class="rb" d="M2453 985v13M2454 998v27"/><path class="gw" d="M2456 1018v29M2457 1008v26M2458 1006v20"/><path class="gb" d="M2456 1024v1M2457 1011v13M2458 1008v3"/><path class="rw" d="M2460 1012v20"/><path class="rb" d="M2460 1012v19"/><path class="gw" d="M2461 1010v22"/><path class="gb" d="M2461 1011v20"/><path class="rw" d="M2463 1006v31"/><path class="rb" d="M2463 1011v16"/><path class="gw" d="M2464 1010v32M2465 990v28M2467 984v9M2468 984v16"/><path class="gb" d="M2464 1014v13M2465 995v19M2467 992v1M2468 985v7"/><path class="rw" d="M2469 983v18"/><path class="rb" d="M2469 985v14"/><path class="gw" d="M2471 982v14"/><path class="gb" d="M2471 983v13"/><path class="rw" d="M2472 980v10"/><path class="rb" d="M2472 983v5"/><path class="gw" d="M2474 977v7M2475 968v17"/><path class="gb" d="M2474 977v7M2475 969v8"/><path class="rw" d="M2476 964v21"/><path class="rb" d="M2476 969v15"/><path class="gw" d="M2478 972v16"/><path class="gb" d="M2478 973v11"/><path class="rw" d="M2479 984v9"/><path class="rb" d="M2479 984v7"/><path class="gw" d="M2480 980v14M2482 971v15"/><path class="gb" d="M2480 984v7M2482 973v11"/><path class="rw" d="M2483 962v17"/><path class="rb" d="M2483 973v4"/><path class="gw" d="M2485 961v14M2486 956v15"/><path class="gb" d="M2485 965v10M2486 958v7"/><path class="rw" d="M2487 946v21M2489 945v21M2490 949v20"/><path class="rb" d="M2487 958v2M2489 960v3M2490 963v5"/><path class="gw" d="M2491 941v26M2493 938v20"/><path class="gb" d="M2491 965v2M2493 943v15"/><path class="rw" d="M2494 937v12M2495 939v14"/><path class="rb" d="M2494 943v6M2495 949v3"/><path class="gw" d="M2497 941v11"/><path class="gb" d="M2497 943v9"/><path class="rw" d="M2498 942v15"/><path class="rb" d="M2498 943v11"/><path class="gw" d="M2500 947v21"/><path class="gb" d="M2500 953v1"/><path class="rw" d="M2501 968v8M2502 976v7M2504 983v8M2505 991v10M2506 1001v11"/><path class="rb" d="M2501 968v6M2502 976v7M2504 983v8M2505 991v7M2506 1001v11"/><path class="gw" d="M2508 1010v7M2509 1002v16"/><path class="gb" d="M2508 1010v2M2509 1005v5"/><path class="rw" d="M2511 995v17"/><path class="rb" d="M2511 1005v4"/><path class="gw" d="M2512 991v19M2513 994v15"/><path class="gb" d="M2512 1006v3M2513 997v9"/><path class="rw" d="M2515 993v12"/><path class="rb" d="M2515 997v7"/><path class="gw" d="M2516 990v10M2517 982v18"/><path class="gb" d="M2516 999v1M2517 984v16"/><path class="rw" d="M2519 974v17"/><path class="rb" d="M2519 984v6"/><path class="gw" d="M2520 977v12"/><path class="gb" d="M2520 986v3"/><path class="rw" d="M2521 979v9"/><path class="rb" d="M2521 986v2"/><path class="gw" d="M2523 980v10"/><path class="gb" d="M2523 983v5"/><path class="rw" d="M2524 981v13M2526 985v11"/><path class="rb" d="M2524 983v7M2526 990v4"/><path class="gw" d="M2527 990v10"/><path class="gb" d="M2527 992v2"/><path class="rw" d="M2528 993v11M2530 995v14M2531 998v11M2532 1001v7"/><path class="rb" d="M2528 993v1M2530 995v3M2531 998v2M2532 1001v7"/><path class="gw" d="M2534 1002v7M2535 998v9M2537 993v13"/><path class="gb" d="M2534 1003v5M2535 999v4M2537 995v4"/><path class="rw" d="M2538 994v7M2539 994v8"/><path class="rb" d="M2538 995v5M2539 1000v1"/><path class="gw" d="M2541 996v6M2542 996v7"/><path class="gb" d="M2541 998v3M2542 997v1"/><path class="rw" d="M2543 1003v8M2545 1011v9M2546 1018v11M2548 1020v18"/><path class="rb" d="M2543 1003v6M2545 1011v2M2546 1018v3M2548 1021v12"/><path class="gw" d="M2549 1022v17"/><path class="gb" d="M2549 1025v8"/><path class="rw" d="M2550 1024v15"/><path class="rb" d="M2550 1025v14"/><path class="gw" d="M2552 1025v20M2553 1022v23M2554 1015v19M2556 1012v11M2557 1009v9"/><path class="gb" d="M2552 1038v1M2553 1038v1M2554 1033v1M2556 1022v1M2557 1011v7"/><path class="rw" d="M2558 1010v20M2560 1024v8M2561 1023v10"/><path class="rb" d="M2558 1011v2M2560 1024v7M2561 1031v1"/><path class="gw" d="M2563 1019v18M2564 1015v17"/><path class="gb" d="M2563 1025v6M2564 1020v5"/><path class="rw" d="M2565 1020v24M2567 1039v18"/><path class="rb" d="M2565 1020v20M2567 1040v16"/><path class="gw" d="M2568 1036v23"/><path class="gb" d="M2568 1038v18"/><path class="rw" d="M2569 1025v17"/><path class="rb" d="M2569 1038v3"/><path class="gw" d="M2571 1033v23"/><path class="gb" d="M2571 1034v7"/><path class="rw" d="M2572 1049v21"/><path class="rb" d="M2572 1049v15"/><path class="gw" d="M2574 1056v24M2575 1038v28M2576 1030v27"/><path class="gb" d="M2574 1057v7M2575 1045v12M2576 1036v9"/><path class="rw" d="M2578 1033v28"/><path class="rb" d="M2578 1036v23"/><path class="gw" d="M2579 1033v28M2580 1023v26"/><path class="gb" d="M2579 1038v21M2580 1031v7"/><path class="rw" d="M2582 1028v27M2583 1036v30M2584 1053v23"/><path class="rb" d="M2582 1031v23M2583 1054v6M2584 1060v15"/><path class="gw" d="M2586 1059v19M2587 1056v17"/><path class="gb" d="M2586 1072v3M2587 1061v11"/><path class="rw" d="M2589 1058v15M2590 1068v7M2591 1073v6M2593 1079v10M2594 1089v23"/><path class="rb" d="M2589 1061v10M2590 1071v2M2591 1073v6M2593 1079v8M2594 1089v22"/><path class="gw" d="M2595 1103v16M2597 1092v24"/><path class="gb" d="M2595 1107v4M2597 1093v14"/><path class="rw" d="M2598 1062v39"/><path class="rb" d="M2598 1093v5"/><path class="gw" d="M2600 1065v27M2601 1072v17M2602 1066v15"/><path class="gb" d="M2600 1091v1M2601 1077v12M2602 1068v9"/><path class="rw" d="M2604 1065v11"/><path class="rb" d="M2604 1068v5"/><path class="gw" d="M2605 1062v12"/><path class="gb" d="M2605 1064v9"/><path class="rw" d="M2606 1059v12"/><path class="rb" d="M2606 1064v7"/><path class="gw" d="M2608 1060v15"/><path class="gb" d="M2608 1064v7"/><path class="rw" d="M2609 1059v17"/><path class="rb" d="M2609 1064v9"/><path class="gw" d="M2611 1056v16M2612 1055v11"/><path class="gb" d="M2611 1057v15M2612 1056v1"/><path class="rw" d="M2613 1055v12M2615 1052v14"/><path class="rb" d="M2613 1057v7M2615 1064v1"/><path class="gw" d="M2616 1050v7M2617 1046v6M2619 1045v5"/><path class="gb" d="M2616 1056v1M2617 1050v2M2619 1049v1"/><path class="rw" d="M2620 1043v7M2621 1050v9M2623 1059v15M2624 1070v22M2626 1082v12"/><path class="rb" d="M2620 1049v1M2621 1050v1M2623 1059v3M2624 1070v1M2626 1082v3"/><path class="gw" d="M2627 1080v9"/><path class="gb" d="M2627 1081v4"/><path class="rw" d="M2628 1074v14"/><path class="rb" d="M2628 1081v4"/><path class="gw" d="M2630 1065v16"/><path class="gb" d="M2630 1067v14"/><path class="rw" d="M2631 1065v28M2632 1089v13"/><path class="rb" d="M2631 1067v21M2632 1089v12"/><path class="gw" d="M2634 1091v20"/><path class="gb" d="M2634 1094v7"/><path class="rw" d="M2635 1090v23"/><path class="rb" d="M2635 1094v1"/><path class="gw" d="M2637 1079v18M2638 1073v11M2639 1071v14"/><path class="gb" d="M2637 1084v11M2638 1083v1M2639 1082v1"/><path class="rw" d="M2641 1075v12"/><path class="rb" d="M2641 1082v1"/><path class="gw" d="M2642 1077v9"/><path class="gb" d="M2642 1077v6"/><path class="rw" d="M2643 1076v11M2645 1076v11"/><path class="rb" d="M2643 1077v1M2645 1078v6"/><path class="gw" d="M2646 1074v13M2648 1072v11"/><path class="gb" d="M2646 1078v6M2648 1073v5"/><path class="rw" d="M2649 1073v16M2650 1082v10M2652 1092v11M2653 1101v7M2654 1097v16"/><path class="rb" d="M2649 1073v3M2650 1082v10M2652 1092v8M2653 1101v6M2654 1107v5"/><path class="gw" d="M2656 1093v20M2657 1087v18"/><path class="gb" d="M2656 1095v17M2657 1091v4"/><path class="rw" d="M2658 1087v12"/><path class="rb" d="M2658 1091v6"/><path class="gw" d="M2660 1088v12"/><path class="gb" d="M2660 1089v8"/><path class="rw" d="M2661 1088v15M2663 1097v41"/><path class="rb" d="M2661 1089v11M2663 1100v37"/><path class="gw" d="M2664 1090v56M2665 1078v40M2667 1054v58M2668 1049v5M2669 1043v6M2671 1036v8M2672 1031v9"/><path class="gb" d="M2664 1107v30M2665 1106v1M2667 1072v35M2668 1049v5M2669 1045v4M2671 1043v1M2672 1032v8"/><path class="rw" d="M2674 1031v6M2675 1033v10M2676 1043v14M2678 1057v15M2679 1072v7"/><path class="rb" d="M2674 1032v4M2675 1036v5M2676 1043v5M2678 1057v12M2679 1072v6"/><path class="gw" d="M2680 1068v12M2682 1071v12"/><path class="gb" d="M2680 1077v1M2682 1073v5"/><path class="rw" d="M2683 1061v23M2684 1057v29M2686 1068v22"/><path class="rb" d="M2683 1073v4M2684 1077v5M2686 1082v4"/><path class="gw" d="M2687 1071v13M2689 1071v8"/><path class="gb" d="M2687 1075v9M2689 1072v3"/><path class="rw" d="M2690 1074v6M2691 1080v6"/><path class="rb" d="M2690 1074v4M2691 1080v5"/><path class="gw" d="M2693 1072v16"/><path class="gb" d="M2693 1076v9"/><path class="rw" d="M2694 1053v36"/><path class="rb" d="M2694 1076v10"/><path class="gw" d="M2695 1039v14M2697 1028v11M2698 1017v11M2700 1012v10M2701 1010v16"/><path class="gb" d="M2695 1044v9M2697 1028v11M2698 1020v8M2700 1016v4M2701 1011v5"/><path class="rw" d="M2702 1016v16"/><path class="rb" d="M2702 1016v5"/><path class="gw" d="M2704 1009v18"/><path class="gb" d="M2704 1015v6"/><path class="rw" d="M2705 1009v11"/><path class="rb" d="M2705 1015v3"/><path class="gw" d="M2706 1014v10"/><path class="gb" d="M2706 1014v4"/><path class="rw" d="M2708 1024v12M2709 1036v10"/><path class="rb" d="M2708 1024v8M2709 1036v4"/><path class="gw" d="M2711 1016v32M2712 1011v7"/><path class="gb" d="M2711 1039v1M2712 1014v4"/><path class="rw" d="M2713 1011v13"/><path class="rb" d="M2713 1014v6"/><path class="gw" d="M2715 1018v11"/><path class="gb" d="M2715 1019v1"/><path class="rw" d="M2716 1021v9"/><path class="rb" d="M2716 1021v7"/><path class="gw" d="M2717 1017v18M2719 1011v12M2720 1010v5"/><path class="gb" d="M2717 1021v7M2719 1012v9M2720 1011v1"/><path class="rw" d="M2721 1015v7M2723 1022v10M2724 1032v11M2726 1036v18"/><path class="rb" d="M2721 1015v6M2723 1022v7M2724 1032v1M2726 1036v17"/><path class="gw" d="M2727 1034v22"/><path class="gb" d="M2727 1037v16"/><path class="rw" d="M2728 1029v17"/><path class="rb" d="M2728 1037v9"/><path class="gw" d="M2730 1027v13"/><path class="gb" d="M2730 1030v10"/><path class="rw" d="M2731 1034v12M2732 1038v16"/><path class="rb" d="M2731 1034v1M2732 1038v13"/><path class="gw" d="M2734 1039v13"/><path class="gb" d="M2734 1040v11"/><path class="rw" d="M2735 1040v11"/><path class="rb" d="M2735 1040v11"/><path class="gw" d="M2737 1045v5"/><path class="gb" d="M2737 1049v1"/><path class="rw" d="M2738 1047v4"/><path class="rb" d="M2738 1048v3"/></svg>
<div class="abs" style="left:-1px;top:995px;width:2732px;height:2px;background:repeating-linear-gradient(90deg,#ef5350 0,#ef5350 2px,transparent 2px,transparent 6px);"></div>
<svg class="abs" style="left:2691px;top:1492px" width="40" height="51" viewBox="2712 1547 40 51">
<circle cx="2738" cy="1573" r="23" fill="#131722"/>
<circle cx="2738" cy="1573" r="19.5" fill="none" stroke="#b84fd1" stroke-width="3"/>
<polygon points="2742.7,1562.2 2744.8,1563.3 2739.5,1571.2 2747.1,1572.3 2732.8,1584.0 2731.2,1582.1 2736.9,1574.3 2729.0,1573.6" fill="#b84fd1"/>
</svg>
<div class="abs" style="left:2731px;top:0;width:2px;height:1598px;background:#242424"></div>
<div class="abs" style="left:0;top:1543px;width:2842px;height:2px;background:#242424"></div>
<div class="abs" style="left:0;top:0;width:2842px;height:1543px;overflow:hidden"><div class="pl" style="top:59px">27000</div><div class="pl" style="top:147px">26800</div><div class="pl" style="top:235px">26600</div><div class="pl" style="top:323px">26400</div><div class="pl" style="top:412px">26200</div><div class="pl" style="top:502px">26000</div><div class="pl" style="top:593px">25800</div><div class="pl" style="top:684px">25600</div><div class="pl" style="top:776px">25400</div><div class="pl" style="top:869px">25200</div><div class="pl" style="top:963px">25000</div><div class="pl" style="top:1033px">24850</div><div class="pl" style="top:1108px">24690</div><div class="pl" style="top:1185px">24530</div><div class="pl" style="top:1261px">24370</div><div class="pl" style="top:1322px">24245</div><div class="pl" style="top:1390px">24105</div><div class="pl" style="top:1459px">23965</div><div class="pl" style="top:1523px">23835</div><div class="pl" style="top:12px;left:2751.5px;letter-spacing:-0.5px">USD</div><div class="abs" style="left:2731px;top:979px;width:102px;height:34px;background:#ef5350;border-radius:0 4px 4px 0"></div><div class="pl" style="top:983px;color:#fff">24957</div></div>
<div class="tl" style="left:92px">9</div><div class="tl" style="left:290px">12:00</div><div class="tl" style="left:487px">10</div><div class="tl" style="left:684px">12:00</div><div class="tl" style="left:881px">11</div><div class="tl" style="left:1078px">12:00</div><div class="tl" style="left:1276px;font-weight:bold">12</div><div class="tl" style="left:1473px">12:00</div><div class="tl" style="left:1670px">13</div><div class="tl" style="left:1867px">12:00</div><div class="tl" style="left:2065px">14</div><div class="tl" style="left:2262px">12:00</div><div class="tl" style="left:2459px">15</div><div class="tl" style="left:2656px">12:00</div>
<div class="lg" style="left:16px;letter-spacing:0.29px">Bitcoin / U.S. Dollar, 5, BITSTAMP</div><div class="lg" style="left:405.6px;letter-spacing:1.50px">O<span class="r">24963</span></div><div class="lg" style="left:512.4px;letter-spacing:1.60px">H<span class="r">24965</span></div><div class="lg" style="left:620.0px;letter-spacing:1.05px">L<span class="r">24957</span></div><div class="lg" style="left:719.7px;letter-spacing:1.00px">C<span class="r">24957</span></div><div class="lg r" style="left:824.3px;letter-spacing:0.8px">&#8722;6 (&#8722;0.02%)</div>
</div>
<svg class="abs" style="left:19px;top:1677px" width="42" height="22" viewBox="19 1677 42 22">
<path d="M20 1678H35.75V1698H27.6V1686.25H20Z" fill="#d1d4dc"/>
<circle cx="42.4" cy="1682.7" r="4.75" fill="#d1d4dc"/>
<path d="M49.7 1678H59.5L51.3 1698H42Z" fill="#d1d4dc"/>
</svg>
<div id="tv" class="abs" style="left:67px;top:1672px;font-size:26.5px;line-height:36px;color:#d1d4dc;letter-spacing:0.25px">TradingView</div>
</body></html>
